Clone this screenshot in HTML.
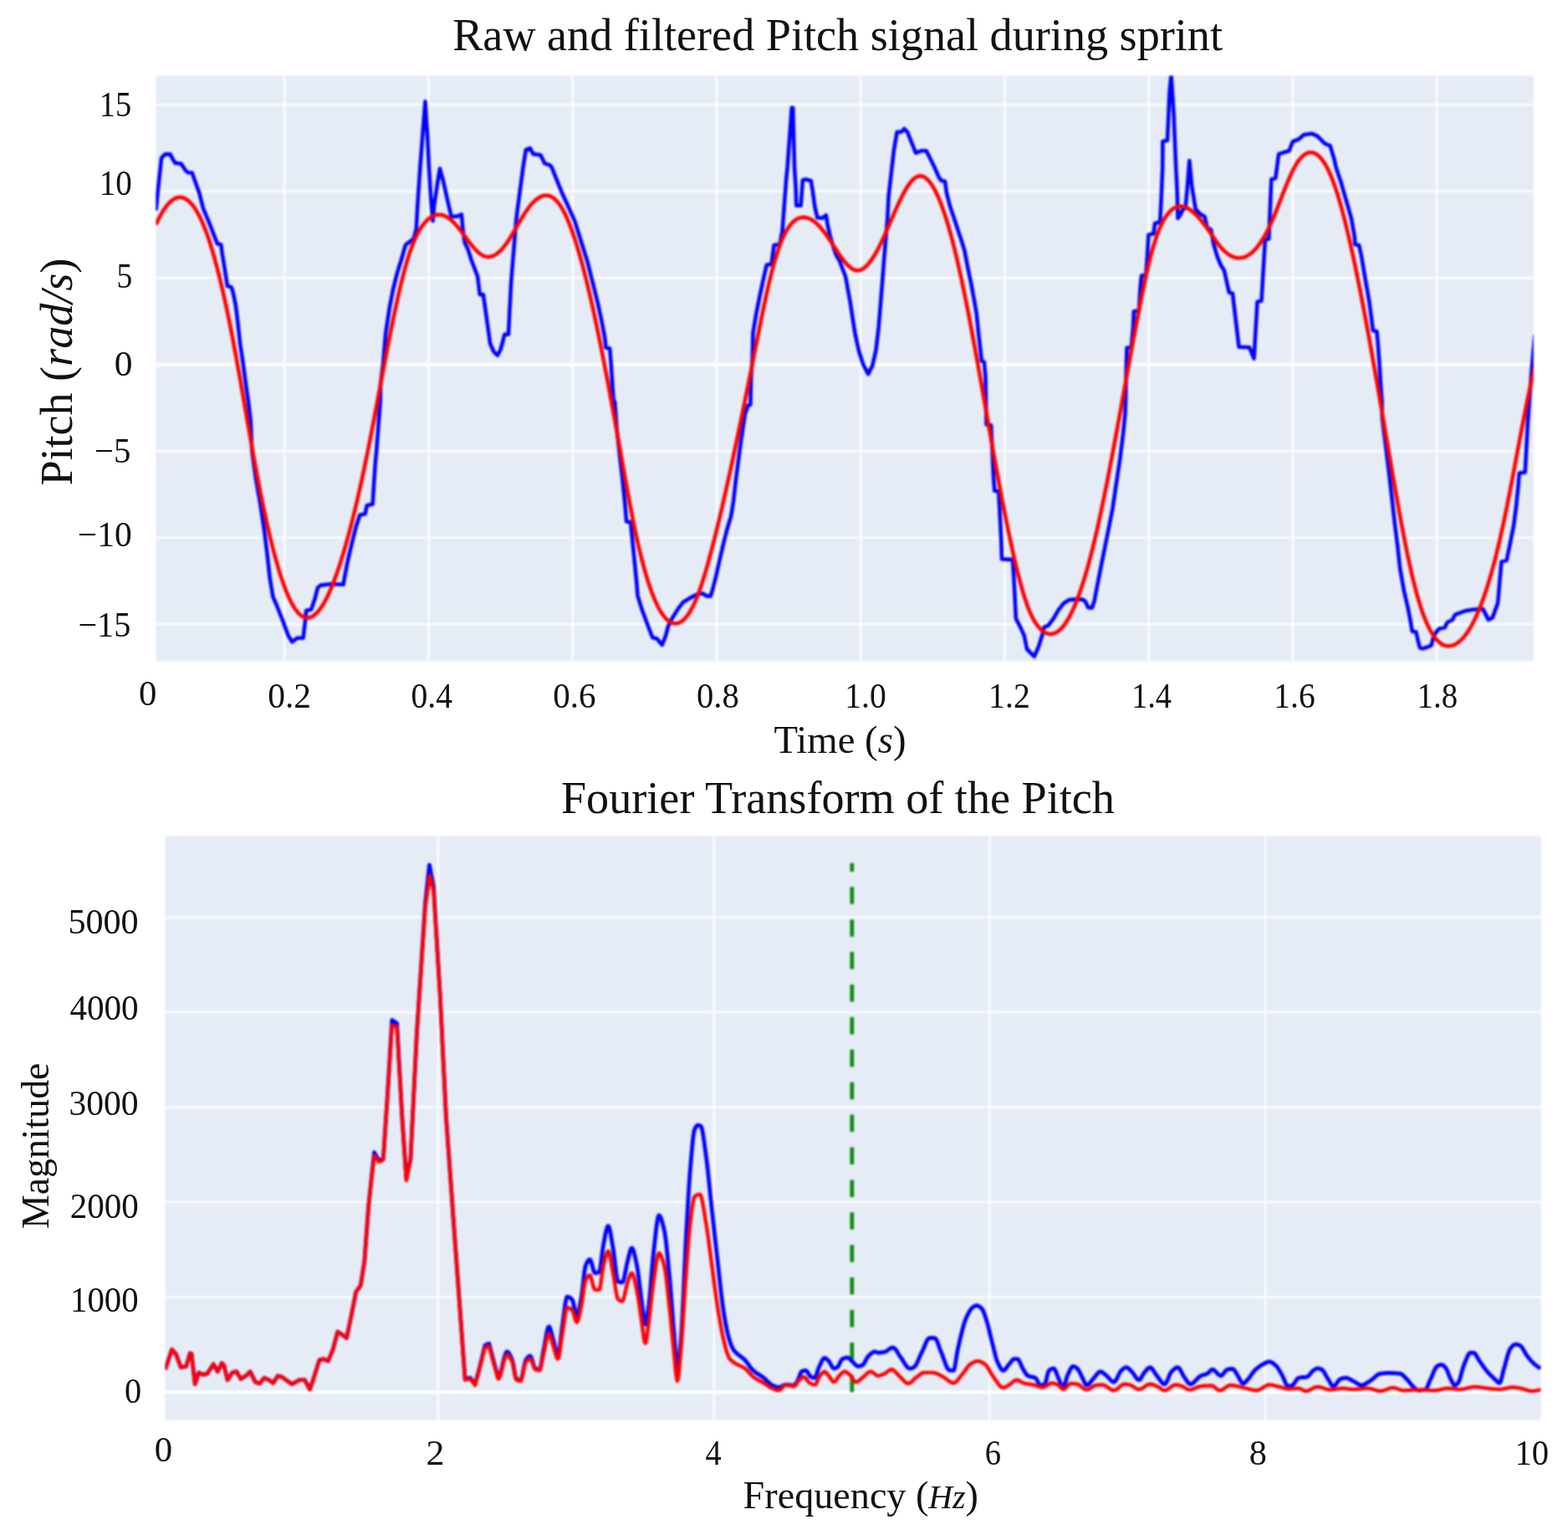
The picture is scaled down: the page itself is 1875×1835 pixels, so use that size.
<!DOCTYPE html>
<html lang="en"><head><meta charset="utf-8"><title>Raw and filtered Pitch signal during sprint</title>
<style>html,body{margin:0;padding:0;background:#fff;}body{width:1875px;height:1835px;overflow:hidden;}svg{display:block;}text{font-family:"Liberation Serif","DejaVu Serif",serif;fill:#111;}</style></head><body>
<svg width="1875" height="1835" viewBox="0 0 1875 1835" role="img" aria-label="Raw and filtered Pitch signal during sprint; Fourier Transform of the Pitch">
<defs><filter id="bl" x="0" y="0" width="1875" height="1835" filterUnits="userSpaceOnUse" color-interpolation-filters="sRGB"><feGaussianBlur stdDeviation="1.00"/></filter></defs>
<g filter="url(#bl)">
<rect x="-20" y="-20" width="1915" height="1875" fill="#fff"/>
<clipPath id="ct"><rect x="186.3" y="90.4" width="1647.5" height="700.0"/></clipPath>
<rect x="186.3" y="90.4" width="1647.5" height="700.0" fill="#e5ecf6"/>
<g stroke="#fff" stroke-width="2.2" clip-path="url(#ct)">
<line x1="340.1" y1="90.4" x2="340.1" y2="790.4"/>
<line x1="512.4" y1="90.4" x2="512.4" y2="790.4"/>
<line x1="684.6" y1="90.4" x2="684.6" y2="790.4"/>
<line x1="856.9" y1="90.4" x2="856.9" y2="790.4"/>
<line x1="1029.1" y1="90.4" x2="1029.1" y2="790.4"/>
<line x1="1201.3" y1="90.4" x2="1201.3" y2="790.4"/>
<line x1="1373.6" y1="90.4" x2="1373.6" y2="790.4"/>
<line x1="1545.8" y1="90.4" x2="1545.8" y2="790.4"/>
<line x1="1718.1" y1="90.4" x2="1718.1" y2="790.4"/>
<line x1="186.3" y1="125.1" x2="1833.8" y2="125.1"/>
<line x1="186.3" y1="228.6" x2="1833.8" y2="228.6"/>
<line x1="186.3" y1="332.1" x2="1833.8" y2="332.1"/>
<line x1="186.3" y1="435.7" x2="1833.8" y2="435.7" stroke-width="4.0"/>
<line x1="186.3" y1="539.2" x2="1833.8" y2="539.2"/>
<line x1="186.3" y1="642.7" x2="1833.8" y2="642.7"/>
<line x1="186.3" y1="746.2" x2="1833.8" y2="746.2"/>
</g>
<g fill="none" stroke-linejoin="round" stroke-linecap="butt" stroke-width="4.6" clip-path="url(#ct)">
<polyline stroke="#0000ff" points="186.5,251.5 189.6,221.0 193.1,188.8 197.4,184.4 203.5,184.4 206.2,189.6 209.6,194.9 216.6,195.7 221.8,203.6 224.5,206.2 229.7,206.6 232.3,214.1 238.3,230.5 242.9,248.8 250.5,267.1 258.1,286.9 260.0,291.5 264.2,292.3 265.8,303.7 268.8,322.0 271.9,341.8 276.7,343.4 278.7,349.5 281.8,364.7 284.1,383.0 287.1,410.5 290.5,433.3 294.0,459.3 297.0,480.0 299.7,502.9 301.3,538.7 305.8,571.5 311.2,602.0 315.8,632.5 319.6,663.0 322.6,690.5 326.4,713.3 331.0,724.0 337.1,739.3 344.7,759.8 349.3,767.3 355.6,762.7 362.6,762.7 365.3,739.3 366.1,730.1 372.2,728.6 376.8,714.9 379.8,702.7 383.6,699.6 395.3,698.3 410.5,698.8 412.0,690.5 415.8,670.6 421.2,647.8 425.8,629.5 430.3,615.7 436.7,614.2 438.7,604.3 445.6,602.8 446.6,586.8 448.6,556.3 450.2,538.7 452.4,510.5 454.7,480.0 455.1,459.3 458.1,434.9 461.2,398.3 465.8,367.8 470.3,344.9 474.9,326.6 481.0,306.8 484.8,293.0 488.6,290.0 494.7,285.4 497.8,273.2 499.3,245.8 502.4,200.0 508.5,121.4 511.0,160.3 513.0,200.0 515.3,238.1 517.6,264.1 519.1,245.8 523.7,215.3 526.0,201.5 529.8,215.3 535.9,242.7 539.7,258.7 546.6,258.7 551.9,256.4 553.4,273.2 555.7,290.0 560.0,299.1 563.6,310.7 571.2,330.7 573.7,352.1 577.9,352.1 586.2,411.0 590.5,420.5 595.0,424.7 598.5,418.0 601.2,408.5 603.3,399.7 608.0,399.7 611.3,335.8 617.5,260.6 625.1,202.9 628.8,179.1 633.8,177.1 637.6,184.1 646.4,185.3 651.4,195.4 657.7,197.4 659.8,200.0 665.9,215.3 672.0,230.5 679.7,247.3 687.3,264.1 694.9,288.5 702.5,312.9 708.6,337.3 714.7,361.7 719.3,383.0 723.1,402.8 724.6,415.8 729.2,416.6 730.7,434.9 732.3,459.3 733.8,479.9 735.1,480.0 737.4,510.5 740.4,538.7 744.2,571.5 747.3,602.0 749.1,623.4 754.1,624.1 756.4,647.8 758.7,670.6 761.0,693.5 762.5,711.8 767.1,727.1 773.2,743.8 779.3,759.8 780.5,762.3 785.5,763.5 791.8,771.0 796.1,759.8 799.1,748.4 803.7,739.3 811.3,727.1 817.4,719.4 825.1,714.9 834.2,710.3 840.5,709.5 845.1,712.6 849.7,712.6 851.9,705.7 855.8,690.5 860.3,670.6 864.9,650.8 869.5,632.5 874.1,617.3 877.1,599.0 880.2,571.5 883.2,548.6 886.3,525.8 890.8,495.3 894.6,484.6 897.4,483.8 898.1,451.6 899.7,428.8 900.4,398.3 904.2,375.4 908.8,352.5 913.4,331.2 916.7,316.7 922.5,315.9 925.6,293.0 932.4,292.3 935.5,276.3 937.8,245.8 940.1,215.3 941.6,200.0 946.8,128.9 948.2,128.9 950.0,200.0 951.5,222.9 952.3,245.8 957.6,245.8 959.9,215.3 963.7,214.5 969.8,216.0 972.1,230.5 974.4,247.3 977.4,260.2 983.5,260.7 987.8,257.2 989.6,268.6 992.7,282.4 997.3,297.6 1000.0,305.2 1003.6,311.0 1011.1,330.7 1016.6,360.8 1022.4,398.4 1027.4,421.0 1032.4,436.0 1038.2,447.3 1043.2,437.3 1047.5,418.5 1050.7,390.9 1054.2,348.3 1057.5,305.7 1061.3,260.6 1062.5,235.5 1068.8,180.3 1072.6,157.8 1077.6,157.8 1081.3,154.0 1085.1,157.8 1095.1,182.8 1101.4,180.3 1107.7,180.3 1112.7,190.3 1117.5,200.0 1122.8,212.2 1125.8,216.0 1130.0,216.8 1131.9,230.5 1135.8,245.8 1141.9,264.1 1148.0,282.4 1153.3,299.1 1157.1,319.0 1160.9,337.3 1164.7,357.1 1167.8,375.4 1170.1,398.3 1172.4,418.1 1173.9,431.8 1176.9,432.6 1178.5,451.6 1179.0,480.0 1179.5,507.5 1185.1,508.2 1186.6,538.7 1188.1,571.5 1189.3,586.8 1194.2,587.5 1195.8,617.3 1197.3,647.8 1198.0,668.4 1211.0,669.1 1212.5,693.5 1214.1,724.0 1214.8,739.3 1220.2,749.9 1224.7,759.8 1228.0,776.0 1236.8,784.8 1241.8,773.5 1246.1,759.8 1248.4,749.9 1253.7,747.6 1259.8,739.3 1266.1,728.6 1272.2,721.0 1278.3,717.1 1287.5,716.4 1295.1,716.7 1298.1,719.4 1301.2,726.3 1305.8,726.8 1308.8,717.9 1311.9,701.1 1316.4,678.3 1321.0,655.4 1325.6,632.5 1330.2,609.6 1334.7,579.1 1339.3,548.6 1343.1,518.1 1345.4,495.3 1346.0,480.0 1346.7,444.0 1347.5,415.8 1352.8,415.0 1355.1,390.6 1355.8,372.3 1361.9,371.6 1363.5,344.9 1365.0,329.6 1370.3,328.9 1371.9,306.8 1373.4,280.8 1379.5,279.3 1381.0,267.1 1387.1,265.6 1388.6,238.1 1390.2,200.0 1390.4,169.1 1396.0,167.8 1398.5,110.1 1400.5,90.1 1403.5,135.2 1406.2,200.0 1407.7,230.5 1408.5,261.0 1411.5,256.4 1414.6,250.3 1417.6,248.8 1419.9,222.9 1422.3,192.0 1425.2,222.9 1429.8,250.3 1435.9,256.4 1440.5,258.7 1443.5,271.7 1448.1,274.7 1451.2,291.5 1455.7,306.8 1460.0,317.4 1463.9,323.2 1469.7,349.5 1473.9,350.8 1481.5,414.7 1494.0,415.2 1499.5,428.5 1503.5,360.8 1508.5,359.6 1512.8,286.9 1517.3,285.6 1520.3,214.2 1525.3,212.9 1529.1,184.1 1541.6,180.3 1545.9,169.1 1552.9,166.5 1559.2,161.0 1569.2,159.8 1575.5,162.8 1584.2,171.6 1590.5,174.1 1595.5,190.4 1597.6,200.0 1603.7,218.3 1609.8,239.7 1615.9,261.0 1619.7,282.4 1620.5,292.3 1625.1,293.0 1628.1,306.8 1632.7,334.2 1637.3,360.1 1640.3,383.0 1641.9,395.2 1646.4,396.0 1648.0,413.5 1649.5,434.9 1651.0,459.3 1652.5,479.9 1652.9,500.0 1656.7,530.5 1660.5,561.0 1664.3,594.6 1668.1,628.1 1671.2,652.5 1674.2,680.0 1678.8,705.9 1683.4,725.7 1686.4,741.0 1688.7,754.7 1693.3,755.5 1695.6,765.4 1697.9,774.5 1701.7,775.3 1706.3,773.8 1711.6,771.5 1713.9,762.3 1716.9,756.2 1720.7,751.7 1727.6,750.1 1730.7,744.0 1736.8,741.0 1739.8,734.9 1745.9,732.6 1752.0,730.3 1761.2,728.8 1770.0,728.0 1773.5,728.4 1779.8,740.9 1784.8,738.4 1791.1,720.9 1794.7,679.9 1795.5,671.5 1801.6,669.9 1805.4,651.6 1810.0,628.8 1813.0,605.9 1815.3,583.0 1816.8,565.5 1823.7,564.7 1825.2,537.3 1826.8,506.8 1829.0,476.3 1831.3,445.8 1833.6,419.8 1835.5,400.0"/>
<polyline stroke="#ff0000" points="186.5,268.5 188.0,265.2 189.5,262.1 191.0,259.2 192.5,256.5 194.0,253.9 195.5,251.4 197.0,249.2 198.5,247.1 200.0,245.2 201.5,243.5 203.0,241.9 204.5,240.6 206.0,239.4 207.5,238.3 209.0,237.5 210.5,236.8 212.0,236.3 213.5,236.0 215.0,235.9 216.5,236.0 218.0,236.2 219.5,236.6 221.0,237.3 222.5,238.1 224.0,239.1 225.5,240.2 227.0,241.6 228.5,243.2 230.0,244.9 231.5,246.9 233.0,249.0 234.5,251.3 236.0,253.9 237.5,256.6 239.0,259.5 240.5,262.6 242.0,266.0 243.5,269.5 245.0,273.2 246.5,277.1 248.0,281.3 249.5,285.6 251.0,290.1 252.5,294.9 254.0,299.8 255.5,304.9 257.0,310.3 258.5,315.8 260.0,321.5 261.5,327.4 263.0,333.5 264.5,339.7 266.0,346.1 267.5,352.7 269.0,359.5 270.5,366.4 272.0,373.5 273.5,380.8 275.0,388.2 276.5,395.7 278.0,403.4 279.5,411.3 281.0,419.3 282.5,427.4 284.0,435.7 285.5,444.0 287.0,452.5 288.5,461.0 290.0,469.6 291.5,478.2 293.0,486.8 294.5,495.5 296.0,504.1 297.5,512.7 299.0,521.3 300.5,529.8 302.0,538.3 303.5,546.6 305.0,554.9 306.5,563.0 308.0,571.0 309.5,578.8 311.0,586.5 312.5,594.1 314.0,601.4 315.5,608.6 317.0,615.6 318.5,622.5 320.0,629.2 321.5,635.7 323.0,642.0 324.5,648.2 326.0,654.2 327.5,660.0 329.0,665.6 330.5,671.0 332.0,676.2 333.5,681.3 335.0,686.1 336.5,690.8 338.0,695.2 339.5,699.4 341.0,703.5 342.5,707.3 344.0,710.9 345.5,714.3 347.0,717.5 348.5,720.5 350.0,723.2 351.5,725.7 353.0,728.0 354.5,730.1 356.0,732.0 357.5,733.6 359.0,735.0 360.5,736.1 362.0,737.0 363.5,737.7 365.0,738.2 366.5,738.5 368.0,738.5 369.5,738.4 371.0,738.0 372.5,737.4 374.0,736.6 375.5,735.6 377.0,734.4 378.5,733.0 380.0,731.4 381.5,729.7 383.0,727.7 384.5,725.6 386.0,723.2 387.5,720.7 389.0,718.0 390.5,715.1 392.0,712.1 393.5,708.9 395.0,705.5 396.5,702.0 398.0,698.3 399.5,694.4 401.0,690.4 402.5,686.3 404.0,681.9 405.5,677.5 407.0,672.9 408.5,668.1 410.0,663.2 411.5,658.2 413.0,653.0 414.5,647.7 416.0,642.3 417.5,636.8 419.0,631.1 420.5,625.2 422.0,619.3 423.5,613.2 425.0,607.0 426.5,600.7 428.0,594.3 429.5,587.7 431.0,581.0 432.5,574.2 434.0,567.3 435.5,560.2 437.0,553.1 438.5,545.8 440.0,538.4 441.5,530.9 443.0,523.3 444.5,515.6 446.0,507.8 447.5,499.9 449.0,492.0 450.5,484.1 452.0,476.1 453.5,468.1 455.0,460.1 456.5,452.1 458.0,444.1 459.5,436.2 461.0,428.3 462.5,420.4 464.0,412.7 465.5,405.0 467.0,397.4 468.5,389.9 470.0,382.6 471.5,375.4 473.0,368.3 474.5,361.4 476.0,354.7 477.5,348.1 479.0,341.7 480.5,335.6 482.0,329.6 483.5,323.9 485.0,318.4 486.5,313.2 488.0,308.2 489.5,303.6 491.0,299.1 492.5,295.0 494.0,291.1 495.5,287.5 497.0,284.1 498.5,281.0 500.0,278.1 501.5,275.4 503.0,272.9 504.5,270.6 506.0,268.6 507.5,266.7 509.0,265.0 510.5,263.4 512.0,262.1 513.5,260.9 515.0,259.8 516.5,258.9 518.0,258.2 519.5,257.6 521.0,257.1 522.5,256.9 524.0,256.7 525.5,256.7 527.0,256.8 528.5,257.1 530.0,257.5 531.5,258.0 533.0,258.7 534.5,259.5 536.0,260.5 537.5,261.5 539.0,262.7 540.5,264.0 542.0,265.4 543.5,266.9 545.0,268.6 546.5,270.3 548.0,272.1 549.5,274.0 551.0,275.9 552.5,277.9 554.0,279.9 555.5,281.9 557.0,283.9 558.5,286.0 560.0,288.0 561.5,289.9 563.0,291.8 564.5,293.7 566.0,295.5 567.5,297.2 569.0,298.8 570.5,300.3 572.0,301.7 573.5,303.0 575.0,304.1 576.5,305.0 578.0,305.8 579.5,306.4 581.0,306.8 582.5,307.1 584.0,307.1 585.5,307.0 587.0,306.8 588.5,306.3 590.0,305.8 591.5,305.0 593.0,304.1 594.5,303.1 596.0,301.9 597.5,300.6 599.0,299.1 600.5,297.5 602.0,295.7 603.5,293.9 605.0,291.9 606.5,289.8 608.0,287.5 609.5,285.2 611.0,282.8 612.5,280.3 614.0,277.8 615.5,275.2 617.0,272.6 618.5,270.0 620.0,267.4 621.5,264.9 623.0,262.3 624.5,259.8 626.0,257.4 627.5,255.1 629.0,252.8 630.5,250.6 632.0,248.6 633.5,246.6 635.0,244.8 636.5,243.1 638.0,241.5 639.5,240.1 641.0,238.8 642.5,237.6 644.0,236.6 645.5,235.7 647.0,235.0 648.5,234.4 650.0,234.0 651.5,233.7 653.0,233.6 654.5,233.7 656.0,234.0 657.5,234.4 659.0,235.0 660.5,235.9 662.0,236.9 663.5,238.1 665.0,239.5 666.5,241.2 668.0,243.0 669.5,245.1 671.0,247.3 672.5,249.8 674.0,252.5 675.5,255.5 677.0,258.6 678.5,262.0 680.0,265.5 681.5,269.3 683.0,273.2 684.5,277.4 686.0,281.7 687.5,286.2 689.0,290.9 690.5,295.8 692.0,300.8 693.5,306.0 695.0,311.4 696.5,316.9 698.0,322.6 699.5,328.5 701.0,334.5 702.5,340.6 704.0,346.9 705.5,353.3 707.0,359.8 708.5,366.5 710.0,373.3 711.5,380.2 713.0,387.3 714.5,394.5 716.0,401.7 717.5,409.1 719.0,416.6 720.5,424.1 722.0,431.8 723.5,439.6 725.0,447.4 726.5,455.3 728.0,463.3 729.5,471.4 731.0,479.5 732.5,487.7 734.0,495.9 735.5,504.2 737.0,512.5 738.5,520.9 740.0,529.3 741.5,537.7 743.0,546.1 744.5,554.6 746.0,563.0 747.5,571.4 749.0,579.7 750.5,587.9 752.0,596.0 753.5,604.0 755.0,611.8 756.5,619.5 758.0,627.0 759.5,634.2 761.0,641.2 762.5,648.0 764.0,654.5 765.5,660.8 767.0,666.9 768.5,672.7 770.0,678.3 771.5,683.6 773.0,688.8 774.5,693.7 776.0,698.3 777.5,702.8 779.0,707.0 780.5,710.9 782.0,714.7 783.5,718.2 785.0,721.5 786.5,724.6 788.0,727.5 789.5,730.2 791.0,732.6 792.5,734.8 794.0,736.8 795.5,738.6 797.0,740.2 798.5,741.5 800.0,742.7 801.5,743.6 803.0,744.4 804.5,744.9 806.0,745.2 807.5,745.3 809.0,745.3 810.5,745.0 812.0,744.5 813.5,743.8 815.0,742.9 816.5,741.8 818.0,740.4 819.5,738.9 821.0,737.1 822.5,735.2 824.0,733.0 825.5,730.5 827.0,727.9 828.5,725.0 830.0,722.0 831.5,718.6 833.0,715.1 834.5,711.3 836.0,707.3 837.5,703.1 839.0,698.7 840.5,694.0 842.0,689.2 843.5,684.2 845.0,679.1 846.5,673.8 848.0,668.3 849.5,662.7 851.0,657.1 852.5,651.3 854.0,645.4 855.5,639.4 857.0,633.4 858.5,627.2 860.0,621.0 861.5,614.7 863.0,608.3 864.5,601.9 866.0,595.3 867.5,588.7 869.0,582.1 870.5,575.3 872.0,568.6 873.5,561.7 875.0,554.8 876.5,547.8 878.0,540.8 879.5,533.7 881.0,526.6 882.5,519.4 884.0,512.2 885.5,505.0 887.0,497.7 888.5,490.4 890.0,483.0 891.5,475.6 893.0,468.2 894.5,460.7 896.0,453.3 897.5,445.8 899.0,438.2 900.5,430.7 902.0,423.1 903.5,415.6 905.0,408.0 906.5,400.5 908.0,392.9 909.5,385.5 911.0,378.1 912.5,370.9 914.0,363.7 915.5,356.7 917.0,349.9 918.5,343.2 920.0,336.8 921.5,330.6 923.0,324.6 924.5,318.9 926.0,313.5 927.5,308.3 929.0,303.5 930.5,299.0 932.0,294.7 933.5,290.7 935.0,287.0 936.5,283.6 938.0,280.4 939.5,277.5 941.0,274.9 942.5,272.5 944.0,270.3 945.5,268.4 947.0,266.7 948.5,265.2 950.0,263.9 951.5,262.8 953.0,261.9 954.5,261.2 956.0,260.6 957.5,260.2 959.0,260.0 960.5,259.9 962.0,259.9 963.5,260.1 965.0,260.4 966.5,260.8 968.0,261.4 969.5,262.1 971.0,263.0 972.5,264.0 974.0,265.1 975.5,266.3 977.0,267.7 978.5,269.2 980.0,270.8 981.5,272.4 983.0,274.2 984.5,276.1 986.0,278.0 987.5,280.1 989.0,282.2 990.5,284.3 992.0,286.5 993.5,288.8 995.0,291.1 996.5,293.4 998.0,295.7 999.5,298.0 1001.0,300.3 1002.5,302.6 1004.0,304.8 1005.5,306.9 1007.0,309.0 1008.5,310.9 1010.0,312.8 1011.5,314.6 1013.0,316.2 1014.5,317.7 1016.0,319.1 1017.5,320.3 1019.0,321.3 1020.5,322.1 1022.0,322.8 1023.5,323.2 1025.0,323.4 1026.5,323.3 1028.0,323.1 1029.5,322.6 1031.0,321.9 1032.5,320.9 1034.0,319.8 1035.5,318.5 1037.0,317.0 1038.5,315.4 1040.0,313.5 1041.5,311.5 1043.0,309.4 1044.5,307.0 1046.0,304.6 1047.5,302.0 1049.0,299.3 1050.5,296.5 1052.0,293.5 1053.5,290.5 1055.0,287.3 1056.5,284.1 1058.0,280.8 1059.5,277.4 1061.0,274.0 1062.5,270.6 1064.0,267.1 1065.5,263.6 1067.0,260.1 1068.5,256.7 1070.0,253.2 1071.5,249.9 1073.0,246.5 1074.5,243.3 1076.0,240.1 1077.5,237.0 1079.0,234.0 1080.5,231.1 1082.0,228.4 1083.5,225.8 1085.0,223.4 1086.5,221.1 1088.0,219.0 1089.5,217.1 1091.0,215.5 1092.5,214.0 1094.0,212.8 1095.5,211.8 1097.0,211.1 1098.5,210.6 1100.0,210.4 1101.5,210.5 1103.0,210.8 1104.5,211.3 1106.0,212.2 1107.5,213.2 1109.0,214.5 1110.5,216.1 1112.0,217.9 1113.5,219.9 1115.0,222.2 1116.5,224.7 1118.0,227.4 1119.5,230.4 1121.0,233.5 1122.5,236.9 1124.0,240.5 1125.5,244.4 1127.0,248.4 1128.5,252.7 1130.0,257.1 1131.5,261.8 1133.0,266.7 1134.5,271.7 1136.0,277.0 1137.5,282.5 1139.0,288.1 1140.5,294.0 1142.0,300.0 1143.5,306.2 1145.0,312.6 1146.5,319.2 1148.0,325.9 1149.5,332.8 1151.0,339.9 1152.5,347.1 1154.0,354.5 1155.5,361.9 1157.0,369.5 1158.5,377.3 1160.0,385.1 1161.5,393.0 1163.0,401.0 1164.5,409.1 1166.0,417.3 1167.5,425.5 1169.0,433.9 1170.5,442.2 1172.0,450.6 1173.5,459.1 1175.0,467.5 1176.5,476.0 1178.0,484.5 1179.5,493.0 1181.0,501.5 1182.5,510.0 1184.0,518.5 1185.5,527.0 1187.0,535.4 1188.5,543.8 1190.0,552.1 1191.5,560.4 1193.0,568.6 1194.5,576.7 1196.0,584.8 1197.5,592.7 1199.0,600.6 1200.5,608.3 1202.0,616.0 1203.5,623.5 1205.0,630.9 1206.5,638.2 1208.0,645.3 1209.5,652.3 1211.0,659.1 1212.5,665.7 1214.0,672.2 1215.5,678.5 1217.0,684.6 1218.5,690.4 1220.0,696.1 1221.5,701.6 1223.0,706.8 1224.5,711.8 1226.0,716.6 1227.5,721.0 1229.0,725.2 1230.5,729.1 1232.0,732.7 1233.5,736.0 1235.0,739.0 1236.5,741.7 1238.0,744.2 1239.5,746.4 1241.0,748.4 1242.5,750.2 1244.0,751.8 1245.5,753.2 1247.0,754.4 1248.5,755.4 1250.0,756.3 1251.5,757.0 1253.0,757.5 1254.5,757.8 1256.0,757.9 1257.5,757.9 1259.0,757.7 1260.5,757.3 1262.0,756.7 1263.5,755.9 1265.0,754.9 1266.5,753.8 1268.0,752.4 1269.5,750.9 1271.0,749.2 1272.5,747.3 1274.0,745.2 1275.5,743.0 1277.0,740.5 1278.5,737.9 1280.0,735.1 1281.5,732.0 1283.0,728.9 1284.5,725.5 1286.0,722.0 1287.5,718.2 1289.0,714.3 1290.5,710.3 1292.0,706.0 1293.5,701.6 1295.0,697.0 1296.5,692.2 1298.0,687.2 1299.5,682.1 1301.0,676.8 1302.5,671.3 1304.0,665.7 1305.5,659.9 1307.0,653.9 1308.5,647.7 1310.0,641.4 1311.5,634.9 1313.0,628.3 1314.5,621.5 1316.0,614.5 1317.5,607.5 1319.0,600.3 1320.5,593.0 1322.0,585.5 1323.5,578.0 1325.0,570.4 1326.5,562.6 1328.0,554.8 1329.5,547.0 1331.0,539.0 1332.5,531.0 1334.0,522.9 1335.5,514.8 1337.0,506.6 1338.5,498.4 1340.0,490.2 1341.5,481.9 1343.0,473.6 1344.5,465.4 1346.0,457.1 1347.5,448.8 1349.0,440.6 1350.5,432.4 1352.0,424.2 1353.5,416.0 1355.0,407.9 1356.5,399.8 1358.0,391.8 1359.5,383.8 1361.0,376.0 1362.5,368.2 1364.0,360.5 1365.5,353.0 1367.0,345.7 1368.5,338.5 1370.0,331.6 1371.5,324.8 1373.0,318.3 1374.5,312.1 1376.0,306.2 1377.5,300.6 1379.0,295.3 1380.5,290.3 1382.0,285.7 1383.5,281.4 1385.0,277.4 1386.5,273.7 1388.0,270.2 1389.5,267.1 1391.0,264.2 1392.5,261.5 1394.0,259.1 1395.5,257.0 1397.0,255.1 1398.5,253.3 1400.0,251.8 1401.5,250.5 1403.0,249.4 1404.5,248.5 1406.0,247.8 1407.5,247.2 1409.0,246.9 1410.5,246.7 1412.0,246.6 1413.5,246.7 1415.0,247.0 1416.5,247.4 1418.0,248.0 1419.5,248.6 1421.0,249.4 1422.5,250.4 1424.0,251.4 1425.5,252.6 1427.0,253.8 1428.5,255.2 1430.0,256.6 1431.5,258.1 1433.0,259.7 1434.5,261.4 1436.0,263.2 1437.5,265.1 1439.0,267.0 1440.5,268.9 1442.0,270.9 1443.5,273.0 1445.0,275.1 1446.5,277.3 1448.0,279.4 1449.5,281.6 1451.0,283.8 1452.5,285.9 1454.0,288.0 1455.5,290.1 1457.0,292.1 1458.5,294.0 1460.0,295.8 1461.5,297.5 1463.0,299.0 1464.5,300.5 1466.0,301.8 1467.5,303.0 1469.0,304.1 1470.5,305.1 1472.0,305.9 1473.5,306.7 1475.0,307.3 1476.5,307.8 1478.0,308.1 1479.5,308.4 1481.0,308.5 1482.5,308.5 1484.0,308.3 1485.5,308.1 1487.0,307.7 1488.5,307.2 1490.0,306.6 1491.5,305.8 1493.0,304.9 1494.5,303.9 1496.0,302.8 1497.5,301.5 1499.0,300.1 1500.5,298.6 1502.0,296.9 1503.5,295.1 1505.0,293.2 1506.5,291.1 1508.0,288.9 1509.5,286.6 1511.0,284.2 1512.5,281.6 1514.0,278.8 1515.5,276.0 1517.0,273.0 1518.5,269.9 1520.0,266.6 1521.5,263.2 1523.0,259.7 1524.5,256.1 1526.0,252.4 1527.5,248.6 1529.0,244.8 1530.5,240.9 1532.0,237.1 1533.5,233.2 1535.0,229.4 1536.5,225.6 1538.0,221.8 1539.5,218.2 1541.0,214.6 1542.5,211.2 1544.0,207.9 1545.5,204.7 1547.0,201.8 1548.5,199.0 1550.0,196.4 1551.5,194.0 1553.0,191.9 1554.5,190.0 1556.0,188.3 1557.5,186.8 1559.0,185.6 1560.5,184.5 1562.0,183.6 1563.5,183.0 1565.0,182.5 1566.5,182.3 1568.0,182.3 1569.5,182.4 1571.0,182.8 1572.5,183.4 1574.0,184.3 1575.5,185.3 1577.0,186.6 1578.5,188.0 1580.0,189.7 1581.5,191.6 1583.0,193.8 1584.5,196.1 1586.0,198.7 1587.5,201.6 1589.0,204.6 1590.5,207.9 1592.0,211.4 1593.5,215.2 1595.0,219.2 1596.5,223.4 1598.0,227.9 1599.5,232.6 1601.0,237.5 1602.5,242.6 1604.0,248.0 1605.5,253.5 1607.0,259.2 1608.5,265.2 1610.0,271.2 1611.5,277.5 1613.0,283.9 1614.5,290.4 1616.0,297.1 1617.5,304.0 1619.0,310.9 1620.5,318.0 1622.0,325.3 1623.5,332.6 1625.0,340.1 1626.5,347.6 1628.0,355.3 1629.5,363.1 1631.0,371.0 1632.5,378.9 1634.0,387.0 1635.5,395.1 1637.0,403.3 1638.5,411.6 1640.0,420.0 1641.5,428.4 1643.0,436.9 1644.5,445.5 1646.0,454.1 1647.5,462.7 1649.0,471.4 1650.5,480.1 1652.0,488.9 1653.5,497.7 1655.0,506.5 1656.5,515.4 1658.0,524.2 1659.5,533.1 1661.0,541.9 1662.5,550.7 1664.0,559.5 1665.5,568.2 1667.0,576.8 1668.5,585.4 1670.0,593.9 1671.5,602.3 1673.0,610.6 1674.5,618.8 1676.0,626.9 1677.5,634.8 1679.0,642.5 1680.5,650.1 1682.0,657.6 1683.5,664.8 1685.0,671.8 1686.5,678.7 1688.0,685.3 1689.5,691.7 1691.0,697.8 1692.5,703.7 1694.0,709.3 1695.5,714.7 1697.0,719.7 1698.5,724.5 1700.0,729.1 1701.5,733.4 1703.0,737.4 1704.5,741.2 1706.0,744.7 1707.5,748.0 1709.0,751.1 1710.5,753.9 1712.0,756.5 1713.5,758.9 1715.0,761.1 1716.5,763.1 1718.0,764.9 1719.5,766.4 1721.0,767.8 1722.5,769.0 1724.0,770.0 1725.5,770.8 1727.0,771.4 1728.5,771.9 1730.0,772.2 1731.5,772.3 1733.0,772.3 1734.5,772.2 1736.0,771.8 1737.5,771.4 1739.0,770.8 1740.5,770.1 1742.0,769.2 1743.5,768.2 1745.0,767.0 1746.5,765.7 1748.0,764.3 1749.5,762.7 1751.0,760.9 1752.5,759.0 1754.0,757.0 1755.5,754.8 1757.0,752.4 1758.5,749.9 1760.0,747.3 1761.5,744.4 1763.0,741.5 1764.5,738.3 1766.0,735.0 1767.5,731.6 1769.0,728.0 1770.5,724.2 1772.0,720.3 1773.5,716.2 1775.0,711.9 1776.5,707.5 1778.0,702.8 1779.5,698.1 1781.0,693.1 1782.5,688.0 1784.0,682.7 1785.5,677.3 1787.0,671.6 1788.5,665.8 1790.0,659.8 1791.5,653.6 1793.0,647.3 1794.5,640.8 1796.0,634.0 1797.5,627.2 1799.0,620.1 1800.5,612.8 1802.0,605.4 1803.5,597.9 1805.0,590.2 1806.5,582.5 1808.0,574.7 1809.5,566.8 1811.0,558.8 1812.5,550.8 1814.0,542.9 1815.5,534.9 1817.0,526.9 1818.5,519.0 1820.0,511.1 1821.5,503.4 1823.0,495.7 1824.5,488.1 1826.0,480.6 1827.5,473.3 1829.0,466.2 1830.5,459.2 1832.0,452.5 1833.5,445.9 1835.0,439.6 1836.5,433.5"/>
</g>
<clipPath id="cb"><rect x="197.6" y="999.5" width="1645.0" height="698.5"/></clipPath>
<rect x="197.6" y="999.5" width="1645.0" height="698.5" fill="#e5ecf6"/>
<g stroke="#fff" stroke-width="2.2" clip-path="url(#cb)">
<line x1="524.1" y1="999.5" x2="524.1" y2="1698.0"/>
<line x1="853.7" y1="999.5" x2="853.7" y2="1698.0"/>
<line x1="1183.4" y1="999.5" x2="1183.4" y2="1698.0"/>
<line x1="1513.0" y1="999.5" x2="1513.0" y2="1698.0"/>
<line x1="197.6" y1="1096.6" x2="1842.6" y2="1096.6"/>
<line x1="197.6" y1="1210.1" x2="1842.6" y2="1210.1"/>
<line x1="197.6" y1="1323.6" x2="1842.6" y2="1323.6"/>
<line x1="197.6" y1="1437.2" x2="1842.6" y2="1437.2"/>
<line x1="197.6" y1="1550.7" x2="1842.6" y2="1550.7"/>
<line x1="197.6" y1="1664.2" x2="1842.6" y2="1664.2" stroke-width="4.0"/>
</g>
<g fill="none" stroke-linejoin="round" stroke-linecap="butt" stroke-width="4.6" clip-path="url(#cb)">
<line x1="1018.8" y1="1664.3" x2="1018.8" y2="1031.8" stroke="#078a07" stroke-width="4.6" stroke-dasharray="20.5 18.4"/>
<polyline stroke="#0000ff" stroke-width="4.8" points="197.6,1637.1 205.6,1613.3 210.2,1618.3 216.4,1634.6 222.7,1633.4 227.2,1617.8 229.0,1618.3 233.2,1654.7 237.7,1640.9 242.7,1643.4 247.8,1642.2 255.3,1630.9 260.3,1639.7 265.3,1629.6 267.8,1632.1 272.1,1649.7 277.8,1640.9 282.9,1639.7 287.9,1648.4 294.1,1644.7 299.1,1639.7 305.4,1652.2 310.4,1653.9 315.9,1647.2 321.7,1649.7 326.7,1653.4 332.2,1644.7 336.7,1645.9 349.3,1654.7 358.1,1649.7 364.3,1649.7 370.6,1661.0 375.6,1645.9 381.9,1625.9 386.9,1624.6 392.4,1627.1 398.2,1613.3 403.7,1592.0 409.4,1595.8 414.5,1599.5 419.5,1575.7 425.7,1544.4 431.2,1536.9 435.8,1508.1 440.8,1440.4 447.5,1377.7 453.3,1387.7 458.3,1385.2 463.3,1310.9 468.8,1219.4 474.6,1223.2 480.9,1336.0 485.9,1408.7 490.9,1386.1 498.4,1235.7 508.5,1080.3 513.5,1033.9 518.5,1060.3 526.0,1185.6 533.5,1336.0 543.5,1475.5 556.1,1648.4 562.3,1647.2 568.1,1654.7 573.6,1634.6 579.9,1608.3 584.9,1606.3 589.9,1625.9 595.7,1647.2 595.9,1647.1 596.9,1646.0 597.9,1643.6 598.9,1640.2 599.9,1636.2 600.9,1631.8 601.9,1627.4 602.9,1623.3 603.9,1619.8 604.9,1617.3 605.9,1615.9 606.9,1616.0 607.9,1616.8 608.9,1618.1 609.9,1619.9 610.9,1622.0 611.9,1624.4 612.9,1627.0 613.9,1631.6 614.9,1637.5 615.9,1643.3 616.9,1647.4 617.9,1648.6 618.9,1649.0 619.9,1649.3 620.9,1649.5 621.9,1649.7 622.9,1649.5 623.9,1647.2 624.9,1643.0 625.9,1637.8 626.9,1632.6 627.9,1628.3 628.9,1625.7 629.9,1624.2 630.9,1622.9 631.9,1621.8 632.9,1621.1 633.9,1620.9 634.9,1621.9 635.9,1624.5 636.9,1627.8 637.9,1631.2 638.9,1634.1 639.9,1635.8 640.9,1636.2 641.9,1636.6 642.9,1636.9 643.9,1637.1 644.9,1637.1 645.9,1636.0 646.9,1632.1 647.9,1626.4 648.9,1620.1 649.9,1614.4 650.9,1609.5 651.9,1603.8 652.9,1598.0 653.9,1592.6 654.9,1588.5 655.9,1586.1 656.9,1586.0 657.9,1588.0 658.9,1591.3 659.9,1595.2 660.9,1599.1 661.9,1602.5 662.9,1606.8 663.9,1611.4 664.9,1615.7 665.9,1619.1 666.9,1620.8 667.9,1619.6 668.9,1614.5 669.9,1606.7 670.9,1597.7 671.9,1589.0 672.9,1581.9 673.9,1574.4 674.9,1566.5 675.9,1559.1 676.9,1553.3 677.9,1550.4 678.9,1550.2 679.9,1550.5 680.9,1550.9 681.9,1551.5 682.9,1552.3 683.9,1553.1 684.9,1555.2 685.9,1559.2 686.9,1564.1 687.9,1568.8 688.9,1572.2 689.9,1573.2 690.9,1571.7 691.9,1568.3 692.9,1563.6 693.9,1558.1 694.9,1552.5 695.9,1546.5 696.9,1538.1 697.9,1528.7 698.9,1520.2 699.9,1514.3 700.9,1511.5 701.9,1509.3 702.9,1507.5 703.9,1506.2 704.9,1505.6 705.9,1506.0 706.9,1508.3 707.9,1511.7 708.9,1515.6 709.9,1519.1 710.9,1521.4 711.9,1521.8 712.9,1521.7 713.9,1521.6 714.9,1521.3 715.9,1520.9 716.9,1520.1 717.9,1515.7 718.9,1508.4 719.9,1499.9 720.9,1492.0 721.9,1486.3 722.9,1481.1 723.9,1475.8 724.9,1471.2 725.9,1467.6 726.9,1465.7 727.9,1465.9 728.9,1468.7 729.9,1473.3 730.9,1479.0 731.9,1485.1 732.9,1490.8 733.9,1497.5 734.9,1505.7 735.9,1514.3 736.9,1522.3 737.9,1528.5 738.9,1531.7 739.9,1532.2 740.9,1532.6 741.9,1532.9 742.9,1533.0 743.9,1533.1 744.9,1532.4 745.9,1529.5 746.9,1525.2 747.9,1520.0 748.9,1514.7 749.9,1510.0 750.9,1506.1 751.9,1501.9 752.9,1497.7 753.9,1494.2 754.9,1492.1 755.9,1492.0 756.9,1493.5 757.9,1496.4 758.9,1500.2 759.9,1504.6 760.9,1509.4 761.9,1514.2 762.9,1520.5 763.9,1528.2 764.9,1536.5 765.9,1544.8 766.9,1552.2 767.9,1560.3 768.9,1568.9 769.9,1576.6 770.9,1581.8 771.9,1583.2 772.9,1580.2 773.9,1574.4 774.9,1567.2 775.9,1559.8 776.9,1550.3 777.9,1538.9 778.9,1526.7 779.9,1514.5 780.9,1503.3 781.9,1494.1 782.9,1485.1 783.9,1476.0 784.9,1467.4 785.9,1460.1 786.9,1455.0 787.9,1452.9 788.9,1453.4 789.9,1455.1 790.9,1457.7 791.9,1461.0 792.9,1464.8 793.9,1468.9 794.9,1473.6 795.9,1480.3 796.9,1488.6 797.9,1498.2 798.9,1508.4 799.9,1519.0 800.9,1529.6 801.9,1541.5 802.9,1554.5 803.9,1567.8 804.9,1580.6 805.9,1592.6 806.9,1606.2 807.9,1619.9 808.9,1630.7 809.9,1635.8 810.9,1633.8 811.9,1627.0 812.9,1617.0 813.9,1605.6 814.9,1593.1 815.9,1576.0 816.9,1555.3 817.9,1532.7 818.9,1509.8 819.9,1488.4 820.9,1469.8 821.9,1452.0 822.9,1434.6 823.9,1418.4 824.9,1403.9 825.9,1391.7 826.9,1380.0 827.9,1368.9 828.9,1359.5 829.9,1352.8 830.9,1349.5 831.9,1347.5 832.9,1346.0 833.9,1345.2 834.9,1345.2 835.9,1345.4 836.9,1345.7 837.9,1346.2 838.9,1347.7 839.9,1351.4 840.9,1357.1 841.9,1364.0 842.9,1371.5 843.9,1379.1 844.9,1386.5 845.9,1394.8 846.9,1404.0 847.9,1413.6 848.9,1423.5 849.9,1433.3 850.9,1442.6 851.9,1451.7 852.9,1460.8 853.9,1469.9 854.9,1479.0 855.9,1488.0 856.9,1496.9 857.9,1505.6 858.9,1514.4 859.9,1523.4 860.9,1532.5 861.9,1541.5 862.9,1550.1 863.9,1558.2 864.9,1565.5 865.9,1571.9 866.9,1577.7 867.9,1583.2 868.9,1588.3 869.9,1592.9 870.9,1597.0 871.9,1600.6 872.9,1603.7 873.9,1606.7 874.9,1609.3 875.9,1611.5 876.9,1613.2 877.9,1614.6 878.9,1615.8 879.9,1616.9 880.9,1617.8 881.9,1618.7 882.9,1619.5 883.9,1620.3 884.9,1621.0 885.9,1621.7 886.9,1622.5 887.9,1623.2 888.9,1624.1 889.9,1625.0 890.9,1626.0 891.9,1627.2 892.9,1628.4 893.9,1629.7 894.9,1631.1 895.9,1632.5 896.9,1633.9 897.9,1635.2 898.9,1636.4 899.9,1637.5 900.9,1638.5 901.9,1639.4 902.9,1640.2 903.9,1640.9 904.9,1641.6 905.9,1642.2 906.9,1642.9 907.9,1643.5 908.9,1644.1 909.9,1644.8 910.9,1645.4 911.9,1646.1 912.9,1646.8 913.9,1647.6 914.9,1648.5 915.9,1649.5 916.9,1650.5 917.9,1651.5 918.9,1652.5 919.9,1653.4 920.9,1654.3 921.9,1655.1 922.9,1655.7 923.9,1656.2 924.9,1656.7 925.9,1657.1 926.9,1657.6 927.9,1657.9 928.9,1658.2 929.9,1658.4 930.9,1658.5 931.9,1658.3 932.9,1658.0 933.9,1657.6 934.9,1657.1 935.9,1656.6 936.9,1656.1 937.9,1655.8 938.9,1655.5 939.9,1655.4 940.9,1655.5 941.9,1655.5 942.9,1655.6 943.9,1655.6 944.9,1655.7 945.9,1655.8 946.9,1655.9 947.9,1655.9 948.9,1655.9 949.9,1655.9 950.9,1655.2 951.9,1653.8 952.9,1652.0 953.9,1650.0 954.9,1648.0 955.9,1645.4 956.9,1642.4 957.9,1640.2 958.9,1639.4 959.9,1639.1 960.9,1638.7 961.9,1638.5 962.9,1638.4 963.9,1638.5 964.9,1639.3 965.9,1640.7 966.9,1642.3 967.9,1644.0 968.9,1645.3 969.9,1646.0 970.9,1646.4 971.9,1646.8 972.9,1647.1 973.9,1647.2 974.9,1646.5 975.9,1644.4 976.9,1641.6 977.9,1638.4 978.9,1635.4 979.9,1633.1 980.9,1631.0 981.9,1628.9 982.9,1626.8 983.9,1625.1 984.9,1623.9 985.9,1623.4 986.9,1623.5 987.9,1624.1 988.9,1625.0 989.9,1626.0 990.9,1627.0 991.9,1628.2 992.9,1629.9 993.9,1631.8 994.9,1633.6 995.9,1635.0 996.9,1635.8 997.9,1635.8 998.9,1635.6 999.9,1635.2 1000.9,1634.7 1001.9,1633.9 1002.9,1632.3 1003.9,1630.2 1004.9,1628.1 1005.9,1626.2 1006.9,1624.9 1007.9,1624.3 1008.9,1623.9 1009.9,1623.5 1010.9,1623.2 1011.9,1623.0 1012.9,1622.9 1013.9,1622.9 1014.9,1623.3 1015.9,1624.1 1016.9,1625.2 1017.9,1626.3 1018.9,1627.4 1019.9,1628.4 1020.9,1629.3 1021.9,1630.4 1022.9,1631.4 1023.9,1632.4 1024.9,1633.0 1025.9,1633.4 1026.9,1633.3 1027.9,1633.2 1028.9,1632.9 1029.9,1632.6 1030.9,1632.2 1031.9,1631.6 1032.9,1630.4 1033.9,1628.8 1034.9,1627.0 1035.9,1625.1 1036.9,1623.2 1037.9,1621.7 1038.9,1620.6 1039.9,1619.7 1040.9,1618.8 1041.9,1617.9 1042.9,1617.1 1043.9,1616.5 1044.9,1616.1 1045.9,1615.9 1046.9,1616.0 1047.9,1616.4 1048.9,1616.8 1049.9,1617.1 1050.9,1617.1 1051.9,1617.0 1052.9,1617.0 1053.9,1616.9 1054.9,1616.7 1055.9,1616.6 1056.9,1616.4 1057.9,1616.3 1058.9,1615.9 1059.9,1615.3 1060.9,1614.6 1061.9,1613.9 1062.9,1613.1 1063.9,1612.3 1064.9,1611.7 1065.9,1611.2 1066.9,1610.9 1067.9,1610.9 1068.9,1611.3 1069.9,1612.1 1070.9,1613.2 1071.9,1614.5 1072.9,1616.1 1073.9,1617.7 1074.9,1619.4 1075.9,1621.0 1076.9,1622.5 1077.9,1623.8 1078.9,1625.2 1079.9,1626.8 1080.9,1628.5 1081.9,1630.1 1082.9,1631.7 1083.9,1633.1 1084.9,1634.3 1085.9,1635.2 1086.9,1635.8 1087.9,1635.9 1088.9,1635.8 1089.9,1635.6 1090.9,1635.3 1091.9,1634.9 1092.9,1634.5 1093.9,1633.7 1094.9,1632.3 1095.9,1630.6 1096.9,1628.6 1097.9,1626.4 1098.9,1624.1 1099.9,1621.7 1100.9,1619.4 1101.9,1617.3 1102.9,1615.3 1103.9,1613.2 1104.9,1610.8 1105.9,1608.3 1106.9,1605.9 1107.9,1603.7 1108.9,1601.8 1109.9,1600.4 1110.9,1599.7 1111.9,1599.5 1112.9,1599.5 1113.9,1599.5 1114.9,1599.5 1115.9,1599.5 1116.9,1599.5 1117.9,1599.6 1118.9,1600.3 1119.9,1602.0 1120.9,1604.2 1121.9,1606.9 1122.9,1609.8 1123.9,1612.6 1124.9,1615.2 1125.9,1617.5 1126.9,1620.1 1127.9,1622.9 1128.9,1625.7 1129.9,1628.5 1130.9,1631.2 1131.9,1633.6 1132.9,1635.6 1133.9,1637.0 1134.9,1637.8 1135.9,1638.0 1136.9,1638.2 1137.9,1638.3 1138.9,1638.4 1139.9,1638.4 1140.9,1637.5 1141.9,1633.5 1142.9,1627.6 1143.9,1620.9 1144.9,1615.0 1145.9,1610.5 1146.9,1606.1 1147.9,1601.7 1148.9,1597.5 1149.9,1593.4 1150.9,1589.4 1151.9,1585.7 1152.9,1582.3 1153.9,1579.3 1154.9,1576.6 1155.9,1574.3 1156.9,1572.2 1157.9,1570.1 1158.9,1568.3 1159.9,1566.6 1160.9,1565.2 1161.9,1564.0 1162.9,1563.1 1163.9,1562.4 1164.9,1561.7 1165.9,1561.2 1166.9,1560.8 1167.9,1560.7 1168.9,1560.8 1169.9,1561.2 1170.9,1561.8 1171.9,1562.5 1172.9,1563.4 1173.9,1564.3 1174.9,1565.5 1175.9,1567.5 1176.9,1570.0 1177.9,1573.0 1178.9,1576.1 1179.9,1579.3 1180.9,1582.6 1181.9,1586.3 1182.9,1590.4 1183.9,1594.6 1184.9,1598.9 1185.9,1603.0 1186.9,1606.9 1187.9,1610.9 1188.9,1615.0 1189.9,1619.0 1190.9,1622.7 1191.9,1625.9 1192.9,1628.4 1193.9,1630.6 1194.9,1632.6 1195.9,1634.5 1196.9,1636.2 1197.9,1637.5 1198.9,1638.2 1199.9,1638.4 1200.9,1638.0 1201.9,1637.1 1202.9,1635.9 1203.9,1634.5 1204.9,1633.1 1205.9,1631.8 1206.9,1630.6 1207.9,1629.4 1208.9,1628.1 1209.9,1626.8 1210.9,1625.7 1211.9,1624.9 1212.9,1624.6 1213.9,1624.6 1214.9,1624.6 1215.9,1624.6 1216.9,1624.6 1217.9,1625.4 1218.9,1627.0 1219.9,1629.2 1220.9,1631.6 1221.9,1633.9 1222.9,1635.8 1223.9,1637.4 1224.9,1639.2 1225.9,1640.8 1226.9,1642.3 1227.9,1643.6 1228.9,1644.5 1229.9,1645.0 1230.9,1645.3 1231.9,1645.6 1232.9,1645.8 1233.9,1646.0 1234.9,1646.2 1235.9,1646.4 1236.9,1646.7 1237.9,1647.1 1238.9,1648.0 1239.9,1649.6 1240.9,1651.5 1241.9,1653.4 1242.9,1655.0 1243.9,1655.9 1244.9,1655.9 1245.9,1655.8 1246.9,1655.6 1247.9,1655.3 1248.9,1654.9 1249.9,1653.8 1250.9,1650.6 1251.9,1646.2 1252.9,1641.9 1253.9,1638.9 1254.9,1637.9 1255.9,1637.3 1256.9,1636.7 1257.9,1636.3 1258.9,1636.0 1259.9,1635.9 1260.9,1636.4 1261.9,1638.0 1262.9,1640.4 1263.9,1643.1 1264.9,1645.7 1265.9,1647.9 1266.9,1650.3 1267.9,1652.9 1268.9,1655.3 1269.9,1657.2 1270.9,1658.3 1271.9,1658.1 1272.9,1656.1 1273.9,1653.0 1274.9,1649.4 1275.9,1645.9 1276.9,1643.3 1277.9,1641.2 1278.9,1639.0 1279.9,1637.0 1280.9,1635.2 1281.9,1634.0 1282.9,1633.4 1283.9,1633.5 1284.9,1633.8 1285.9,1634.3 1286.9,1635.0 1287.9,1635.7 1288.9,1636.7 1289.9,1638.2 1290.9,1640.0 1291.9,1642.1 1292.9,1644.2 1293.9,1646.3 1294.9,1648.2 1295.9,1650.4 1296.9,1652.7 1297.9,1654.6 1298.9,1655.8 1299.9,1655.9 1300.9,1655.5 1301.9,1654.7 1302.9,1653.7 1303.9,1652.5 1304.9,1651.2 1305.9,1649.9 1306.9,1648.6 1307.9,1647.5 1308.9,1646.4 1309.9,1645.1 1310.9,1643.8 1311.9,1642.5 1312.9,1641.4 1313.9,1640.4 1314.9,1639.8 1315.9,1639.7 1316.9,1639.9 1317.9,1640.3 1318.9,1641.0 1319.9,1641.8 1320.9,1642.7 1321.9,1643.6 1322.9,1644.4 1323.9,1645.2 1324.9,1646.2 1325.9,1647.3 1326.9,1648.5 1327.9,1649.6 1328.9,1650.6 1329.9,1651.4 1330.9,1652.0 1331.9,1652.2 1332.9,1651.8 1333.9,1650.8 1334.9,1649.2 1335.9,1647.2 1336.9,1645.1 1337.9,1643.0 1338.9,1641.0 1339.9,1639.4 1340.9,1638.3 1341.9,1637.4 1342.9,1636.6 1343.9,1635.9 1344.9,1635.2 1345.9,1634.8 1346.9,1634.6 1347.9,1634.8 1348.9,1635.3 1349.9,1636.2 1350.9,1637.2 1351.9,1638.2 1352.9,1639.3 1353.9,1640.3 1354.9,1641.5 1355.9,1643.0 1356.9,1644.5 1357.9,1646.0 1358.9,1647.4 1359.9,1648.5 1360.9,1649.3 1361.9,1649.7 1362.9,1649.4 1363.9,1648.3 1364.9,1646.7 1365.9,1644.9 1366.9,1643.0 1367.9,1641.5 1368.9,1640.3 1369.9,1639.0 1370.9,1637.8 1371.9,1636.6 1372.9,1635.7 1373.9,1635.0 1374.9,1634.7 1375.9,1634.8 1376.9,1635.5 1377.9,1636.6 1378.9,1638.0 1379.9,1639.5 1380.9,1641.1 1381.9,1642.7 1382.9,1644.1 1383.9,1645.3 1384.9,1646.6 1385.9,1648.0 1386.9,1649.5 1387.9,1650.8 1388.9,1652.1 1389.9,1653.2 1390.9,1654.1 1391.9,1654.6 1392.9,1654.7 1393.9,1653.9 1394.9,1652.4 1395.9,1650.3 1396.9,1647.9 1397.9,1645.4 1398.9,1643.0 1399.9,1641.1 1400.9,1639.7 1401.9,1638.7 1402.9,1637.8 1403.9,1636.9 1404.9,1636.1 1405.9,1635.4 1406.9,1634.9 1407.9,1634.7 1408.9,1634.7 1409.9,1635.4 1410.9,1636.8 1411.9,1638.5 1412.9,1640.4 1413.9,1642.4 1414.9,1644.3 1415.9,1645.8 1416.9,1647.2 1417.9,1648.8 1418.9,1650.3 1419.9,1651.8 1420.9,1653.1 1421.9,1654.0 1422.9,1654.6 1423.9,1654.7 1424.9,1654.4 1425.9,1653.9 1426.9,1653.2 1427.9,1652.3 1428.9,1651.3 1429.9,1650.2 1430.9,1649.1 1431.9,1648.0 1432.9,1647.0 1433.9,1646.1 1434.9,1645.3 1435.9,1644.7 1436.9,1644.3 1437.9,1644.0 1438.9,1643.7 1439.9,1643.4 1440.9,1643.1 1441.9,1642.8 1442.9,1642.4 1443.9,1642.0 1444.9,1641.2 1445.9,1640.1 1446.9,1639.0 1447.9,1638.1 1448.9,1637.4 1449.9,1637.1 1450.9,1637.4 1451.9,1638.0 1452.9,1638.9 1453.9,1639.9 1454.9,1641.0 1455.9,1642.1 1456.9,1643.1 1457.9,1643.9 1458.9,1644.5 1459.9,1644.7 1460.9,1644.3 1461.9,1643.5 1462.9,1642.3 1463.9,1640.9 1464.9,1639.5 1465.9,1638.3 1466.9,1637.5 1467.9,1637.1 1468.9,1636.9 1469.9,1636.7 1470.9,1636.6 1471.9,1636.5 1472.9,1636.4 1473.9,1636.4 1474.9,1636.8 1475.9,1637.7 1476.9,1639.2 1477.9,1640.9 1478.9,1642.6 1479.9,1644.2 1480.9,1645.8 1481.9,1647.6 1482.9,1649.6 1483.9,1651.4 1484.9,1652.9 1485.9,1653.8 1486.9,1653.9 1487.9,1653.5 1488.9,1652.7 1489.9,1651.7 1490.9,1650.5 1491.9,1649.3 1492.9,1648.2 1493.9,1647.0 1494.9,1645.7 1495.9,1644.2 1496.9,1642.7 1497.9,1641.3 1498.9,1639.9 1499.9,1638.8 1500.9,1637.8 1501.9,1636.8 1502.9,1636.0 1503.9,1635.1 1504.9,1634.3 1505.9,1633.6 1506.9,1632.9 1507.9,1632.2 1508.9,1631.6 1509.9,1631.1 1510.9,1630.6 1511.9,1630.0 1512.9,1629.5 1513.9,1629.0 1514.9,1628.5 1515.9,1628.2 1516.9,1627.9 1517.9,1627.9 1518.9,1628.0 1519.9,1628.3 1520.9,1628.8 1521.9,1629.5 1522.9,1630.2 1523.9,1631.0 1524.9,1631.8 1525.9,1632.7 1526.9,1633.8 1527.9,1635.2 1528.9,1636.7 1529.9,1638.4 1530.9,1640.1 1531.9,1641.8 1532.9,1643.5 1533.9,1645.5 1534.9,1647.8 1535.9,1650.2 1536.9,1652.6 1537.9,1654.6 1538.9,1656.2 1539.9,1657.1 1540.9,1657.2 1541.9,1657.0 1542.9,1656.8 1543.9,1656.5 1544.9,1656.1 1545.9,1655.6 1546.9,1654.7 1547.9,1653.3 1548.9,1651.8 1549.9,1650.2 1550.9,1648.8 1551.9,1647.7 1552.9,1647.2 1553.9,1647.0 1554.9,1646.8 1555.9,1646.7 1556.9,1646.6 1557.9,1646.5 1558.9,1646.5 1559.9,1646.4 1560.9,1646.3 1561.9,1646.1 1562.9,1645.9 1563.9,1645.5 1564.9,1644.6 1565.9,1643.5 1566.9,1642.3 1567.9,1641.0 1568.9,1639.8 1569.9,1638.8 1570.9,1638.1 1571.9,1637.4 1572.9,1636.8 1573.9,1636.2 1574.9,1635.9 1575.9,1635.9 1576.9,1636.0 1577.9,1636.2 1578.9,1636.6 1579.9,1636.9 1580.9,1637.4 1581.9,1638.3 1582.9,1639.6 1583.9,1641.2 1584.9,1643.1 1585.9,1644.9 1586.9,1646.7 1587.9,1648.3 1588.9,1649.9 1589.9,1651.7 1590.9,1653.6 1591.9,1655.2 1592.9,1656.5 1593.9,1657.1 1594.9,1657.1 1595.9,1656.5 1596.9,1655.5 1597.9,1654.2 1598.9,1652.8 1599.9,1651.4 1600.9,1650.1 1601.9,1649.1 1602.9,1648.5 1603.9,1648.2 1604.9,1647.9 1605.9,1647.6 1606.9,1647.4 1607.9,1647.3 1608.9,1647.2 1609.9,1647.2 1610.9,1647.4 1611.9,1647.7 1612.9,1648.2 1613.9,1648.7 1614.9,1649.2 1615.9,1649.8 1616.9,1650.4 1617.9,1650.9 1618.9,1651.4 1619.9,1651.9 1620.9,1652.6 1621.9,1653.2 1622.9,1653.9 1623.9,1654.5 1624.9,1655.1 1625.9,1655.5 1626.9,1655.8 1627.9,1655.9 1628.9,1655.9 1629.9,1655.7 1630.9,1655.3 1631.9,1654.8 1632.9,1654.3 1633.9,1653.7 1634.9,1653.0 1635.9,1652.3 1636.9,1651.7 1637.9,1651.1 1638.9,1650.4 1639.9,1649.7 1640.9,1648.9 1641.9,1648.1 1642.9,1647.2 1643.9,1646.3 1644.9,1645.4 1645.9,1644.6 1646.9,1643.8 1647.9,1643.2 1648.9,1642.7 1649.9,1642.3 1650.9,1642.1 1651.9,1642.0 1652.9,1641.9 1653.9,1641.8 1654.9,1641.7 1655.9,1641.6 1656.9,1641.5 1657.9,1641.5 1658.9,1641.4 1659.9,1641.4 1660.9,1641.4 1661.9,1641.4 1662.9,1641.4 1663.9,1641.4 1664.9,1641.5 1665.9,1641.5 1666.9,1641.6 1667.9,1641.6 1668.9,1641.7 1669.9,1641.7 1670.9,1641.8 1671.9,1641.9 1672.9,1642.0 1673.9,1642.1 1674.9,1642.2 1675.9,1642.7 1676.9,1643.4 1677.9,1644.3 1678.9,1645.3 1679.9,1646.4 1680.9,1647.3 1681.9,1648.3 1682.9,1649.4 1683.9,1650.6 1684.9,1651.8 1685.9,1653.1 1686.9,1654.3 1687.9,1655.5 1688.9,1656.6 1689.9,1657.7 1690.9,1658.6 1691.9,1659.6 1692.9,1660.5 1693.9,1661.4 1694.9,1662.0 1695.9,1662.2 1696.9,1662.2 1697.9,1662.1 1698.9,1662.0 1699.9,1661.9 1700.9,1661.8 1701.9,1661.6 1702.9,1661.4 1703.9,1661.1 1704.9,1660.8 1705.9,1659.7 1706.9,1657.8 1707.9,1655.5 1708.9,1652.9 1709.9,1650.4 1710.9,1648.2 1711.9,1646.1 1712.9,1643.7 1713.9,1641.2 1714.9,1638.9 1715.9,1636.7 1716.9,1635.0 1717.9,1633.7 1718.9,1633.0 1719.9,1632.4 1720.9,1632.0 1721.9,1631.6 1722.9,1631.4 1723.9,1631.4 1724.9,1631.8 1725.9,1632.4 1726.9,1633.3 1727.9,1634.2 1728.9,1635.3 1729.9,1637.1 1730.9,1639.4 1731.9,1642.0 1732.9,1644.6 1733.9,1647.0 1734.9,1648.9 1735.9,1650.9 1736.9,1652.9 1737.9,1654.6 1738.9,1655.7 1739.9,1655.9 1740.9,1655.6 1741.9,1654.9 1742.9,1653.9 1743.9,1652.8 1744.9,1650.7 1745.9,1647.7 1746.9,1644.3 1747.9,1640.6 1748.9,1636.9 1749.9,1633.6 1750.9,1630.9 1751.9,1628.5 1752.9,1626.1 1753.9,1623.6 1754.9,1621.4 1755.9,1619.4 1756.9,1618.0 1757.9,1617.2 1758.9,1617.1 1759.9,1617.1 1760.9,1617.1 1761.9,1617.1 1762.9,1617.3 1763.9,1618.2 1764.9,1619.7 1765.9,1621.4 1766.9,1623.3 1767.9,1625.0 1768.9,1626.5 1769.9,1627.9 1770.9,1629.3 1771.9,1630.8 1772.9,1632.2 1773.9,1633.7 1774.9,1635.1 1775.9,1636.4 1776.9,1637.7 1777.9,1639.0 1778.9,1640.1 1779.9,1641.2 1780.9,1642.3 1781.9,1643.4 1782.9,1644.4 1783.9,1645.4 1784.9,1646.3 1785.9,1647.3 1786.9,1648.2 1787.9,1649.1 1788.9,1650.0 1789.9,1651.1 1790.9,1652.2 1791.9,1653.0 1792.9,1653.4 1793.9,1652.6 1794.9,1650.1 1795.9,1646.4 1796.9,1642.2 1797.9,1638.1 1798.9,1634.7 1799.9,1631.2 1800.9,1627.4 1801.9,1623.7 1802.9,1620.0 1803.9,1616.8 1804.9,1614.2 1805.9,1612.3 1806.9,1611.0 1807.9,1609.9 1808.9,1608.9 1809.9,1608.0 1810.9,1607.4 1811.9,1607.1 1812.9,1607.1 1813.9,1607.2 1814.9,1607.5 1815.9,1607.8 1816.9,1608.1 1817.9,1608.6 1818.9,1609.5 1819.9,1610.7 1820.9,1612.2 1821.9,1613.9 1822.9,1615.7 1823.9,1617.4 1824.9,1619.1 1825.9,1620.6 1826.9,1621.9 1827.9,1623.1 1828.9,1624.4 1829.9,1625.6 1830.9,1626.8 1831.9,1627.9 1832.9,1628.9 1833.9,1629.9 1834.9,1630.7 1835.9,1631.6 1836.9,1632.4 1837.9,1633.1 1838.9,1633.8 1839.9,1634.5 1840.9,1635.1 1841.9,1635.6 1842.4,1635.9"/>
<polyline stroke="#ff0000" stroke-width="4.4" points="197.6,1637.1 205.6,1613.3 210.2,1618.3 216.4,1634.6 222.7,1633.4 227.2,1617.8 229.0,1618.3 233.2,1654.7 237.7,1640.9 242.7,1643.4 247.8,1642.2 255.3,1630.9 260.3,1639.7 265.3,1629.6 267.8,1632.1 272.1,1649.7 277.8,1640.9 282.9,1639.7 287.9,1648.4 294.1,1644.7 299.1,1639.7 305.4,1652.2 310.4,1653.9 315.9,1647.2 321.7,1649.7 326.7,1653.4 332.2,1644.7 336.7,1645.9 349.3,1654.7 358.1,1649.7 364.3,1649.7 370.6,1661.0 375.6,1645.9 381.9,1625.9 386.9,1624.6 392.4,1627.1 398.2,1613.3 403.7,1592.0 409.4,1595.8 414.5,1599.5 419.5,1575.7 425.7,1544.4 431.2,1536.9 435.8,1508.1 440.8,1440.4 447.5,1381.5 453.3,1389.0 458.3,1386.5 463.3,1310.9 468.8,1225.7 474.6,1227.7 480.9,1336.0 485.9,1411.2 490.9,1386.1 498.4,1235.7 508.5,1085.3 514.0,1046.5 518.5,1065.3 526.0,1185.6 533.5,1336.0 543.5,1475.5 556.1,1649.7 562.3,1648.4 568.1,1655.9 573.6,1635.9 579.9,1610.8 584.9,1609.6 589.9,1628.4 595.7,1648.4 595.9,1648.4 596.9,1647.4 597.9,1645.1 598.9,1642.0 599.9,1638.3 600.9,1634.3 601.9,1630.2 602.9,1626.5 603.9,1623.3 604.9,1620.9 605.9,1619.7 606.9,1619.7 607.9,1620.4 608.9,1621.6 609.9,1623.1 610.9,1625.0 611.9,1627.0 612.9,1629.4 613.9,1633.7 614.9,1639.3 615.9,1644.8 616.9,1648.6 617.9,1649.8 618.9,1650.2 619.9,1650.6 620.9,1650.8 621.9,1650.9 622.9,1650.8 623.9,1648.5 624.9,1644.5 625.9,1639.5 626.9,1634.5 627.9,1630.5 628.9,1628.3 629.9,1627.1 630.9,1626.1 631.9,1625.3 632.9,1624.8 633.9,1624.6 634.9,1625.5 635.9,1627.6 636.9,1630.3 637.9,1633.2 638.9,1635.6 639.9,1637.0 640.9,1637.5 641.9,1637.8 642.9,1638.1 643.9,1638.3 644.9,1638.4 645.9,1637.5 646.9,1634.2 647.9,1629.4 648.9,1624.1 649.9,1619.3 650.9,1615.0 651.9,1610.1 652.9,1605.1 653.9,1600.5 654.9,1596.9 655.9,1594.8 656.9,1594.8 657.9,1596.6 658.9,1599.7 659.9,1603.3 660.9,1606.8 661.9,1609.8 662.9,1613.3 663.9,1617.1 664.9,1620.5 665.9,1623.2 666.9,1624.5 667.9,1623.6 668.9,1619.4 669.9,1613.0 670.9,1605.6 671.9,1598.2 672.9,1592.1 673.9,1585.4 674.9,1578.2 675.9,1571.4 676.9,1566.1 677.9,1563.4 678.9,1563.2 679.9,1563.5 680.9,1563.8 681.9,1564.3 682.9,1565.0 683.9,1565.7 684.9,1567.3 685.9,1570.3 686.9,1574.0 687.9,1577.5 688.9,1580.0 689.9,1580.7 690.9,1579.3 691.9,1576.2 692.9,1572.0 693.9,1567.2 694.9,1562.3 695.9,1557.2 696.9,1550.4 697.9,1543.0 698.9,1536.3 699.9,1531.6 700.9,1529.3 701.9,1527.5 702.9,1526.0 703.9,1524.9 704.9,1524.4 705.9,1524.8 706.9,1527.3 707.9,1531.0 708.9,1535.2 709.9,1538.9 710.9,1541.4 711.9,1541.9 712.9,1541.9 713.9,1541.9 714.9,1541.9 715.9,1541.9 716.9,1541.6 717.9,1537.8 718.9,1531.2 719.9,1523.5 720.9,1516.5 721.9,1511.7 722.9,1507.5 723.9,1503.5 724.9,1499.9 725.9,1497.2 726.9,1495.7 727.9,1496.0 728.9,1498.9 729.9,1503.7 730.9,1509.5 731.9,1515.5 732.9,1520.8 733.9,1526.4 734.9,1532.9 735.9,1539.5 736.9,1545.5 737.9,1550.2 738.9,1552.9 739.9,1553.8 740.9,1554.6 741.9,1555.1 742.9,1555.5 743.9,1555.7 744.9,1555.0 745.9,1552.3 746.9,1548.2 747.9,1543.5 748.9,1538.7 749.9,1534.7 750.9,1531.7 751.9,1528.7 752.9,1525.8 753.9,1523.4 754.9,1522.0 755.9,1522.1 756.9,1523.7 757.9,1526.6 758.9,1530.4 759.9,1534.9 760.9,1539.6 761.9,1544.2 762.9,1549.8 763.9,1556.4 764.9,1563.5 765.9,1570.6 766.9,1577.1 767.9,1584.5 768.9,1592.5 769.9,1599.5 770.9,1604.4 771.9,1605.7 772.9,1602.2 773.9,1595.4 774.9,1587.4 775.9,1580.1 776.9,1571.9 777.9,1563.0 778.9,1553.7 779.9,1544.7 780.9,1536.5 781.9,1529.5 782.9,1522.6 783.9,1515.6 784.9,1509.0 785.9,1503.5 786.9,1499.6 787.9,1498.0 788.9,1498.5 789.9,1499.9 790.9,1502.1 791.9,1504.9 792.9,1508.2 793.9,1511.7 794.9,1515.9 795.9,1522.0 796.9,1529.8 797.9,1538.6 798.9,1548.0 799.9,1557.5 800.9,1566.6 801.9,1576.4 802.9,1586.8 803.9,1597.2 804.9,1607.3 805.9,1616.8 806.9,1627.5 807.9,1638.3 808.9,1646.8 809.9,1650.9 810.9,1648.5 811.9,1640.8 812.9,1629.9 813.9,1618.0 814.9,1606.5 815.9,1592.8 816.9,1577.5 817.9,1561.4 818.9,1545.3 819.9,1530.0 820.9,1516.3 821.9,1502.9 822.9,1489.6 823.9,1477.3 824.9,1466.6 825.9,1458.0 826.9,1449.8 827.9,1442.2 828.9,1435.9 829.9,1431.7 830.9,1430.1 831.9,1429.4 832.9,1428.9 833.9,1428.4 834.9,1428.1 835.9,1427.9 836.9,1427.8 837.9,1428.9 838.9,1431.8 839.9,1436.2 840.9,1441.5 841.9,1447.6 842.9,1453.9 843.9,1460.0 844.9,1465.9 845.9,1472.5 846.9,1479.6 847.9,1487.1 848.9,1494.8 849.9,1502.4 850.9,1509.8 851.9,1517.3 852.9,1524.9 853.9,1532.7 854.9,1540.3 855.9,1547.7 856.9,1554.8 857.9,1561.4 858.9,1567.6 859.9,1573.6 860.9,1579.5 861.9,1585.1 862.9,1590.4 863.9,1595.4 864.9,1600.0 865.9,1604.1 866.9,1608.1 867.9,1611.9 868.9,1615.5 869.9,1618.7 870.9,1621.3 871.9,1623.3 872.9,1624.6 873.9,1625.8 874.9,1626.7 875.9,1627.6 876.9,1628.3 877.9,1629.0 878.9,1629.7 879.9,1630.2 880.9,1630.8 881.9,1631.3 882.9,1631.7 883.9,1632.2 884.9,1632.6 885.9,1633.1 886.9,1633.6 887.9,1634.1 888.9,1634.7 889.9,1635.3 890.9,1636.0 891.9,1636.8 892.9,1637.7 893.9,1638.8 894.9,1639.9 895.9,1641.0 896.9,1642.1 897.9,1643.2 898.9,1644.2 899.9,1645.2 900.9,1646.0 901.9,1646.7 902.9,1647.4 903.9,1648.1 904.9,1648.7 905.9,1649.2 906.9,1649.8 907.9,1650.4 908.9,1650.9 909.9,1651.5 910.9,1652.0 911.9,1652.6 912.9,1653.2 913.9,1653.8 914.9,1654.5 915.9,1655.1 916.9,1655.8 917.9,1656.5 918.9,1657.2 919.9,1657.8 920.9,1658.4 921.9,1659.0 922.9,1659.5 923.9,1659.9 924.9,1660.4 925.9,1660.9 926.9,1661.3 927.9,1661.7 928.9,1661.9 929.9,1662.1 930.9,1662.2 931.9,1662.0 932.9,1661.4 933.9,1660.5 934.9,1659.5 935.9,1658.4 936.9,1657.4 937.9,1656.6 938.9,1656.1 939.9,1655.9 940.9,1656.0 941.9,1656.1 942.9,1656.3 943.9,1656.4 944.9,1656.6 945.9,1656.8 946.9,1657.0 947.9,1657.1 948.9,1657.2 949.9,1657.2 950.9,1656.5 951.9,1655.1 952.9,1653.5 953.9,1651.9 954.9,1650.7 955.9,1649.7 956.9,1648.6 957.9,1647.6 958.9,1646.7 959.9,1646.2 960.9,1645.9 961.9,1646.2 962.9,1647.0 963.9,1648.1 964.9,1649.5 965.9,1650.9 966.9,1652.1 967.9,1653.1 968.9,1653.6 969.9,1654.1 970.9,1654.5 971.9,1654.9 972.9,1655.2 973.9,1655.4 974.9,1655.4 975.9,1654.4 976.9,1652.4 977.9,1649.8 978.9,1647.4 979.9,1645.7 980.9,1644.4 981.9,1643.0 982.9,1641.7 983.9,1640.7 984.9,1640.0 985.9,1639.7 986.9,1639.9 987.9,1640.8 988.9,1642.0 989.9,1643.3 990.9,1644.5 991.9,1645.8 992.9,1647.3 993.9,1648.9 994.9,1650.3 995.9,1651.5 996.9,1652.1 997.9,1652.0 998.9,1651.3 999.9,1650.0 1000.9,1648.4 1001.9,1646.8 1002.9,1645.4 1003.9,1644.3 1004.9,1643.3 1005.9,1642.2 1006.9,1641.2 1007.9,1640.4 1008.9,1639.8 1009.9,1639.7 1010.9,1639.8 1011.9,1640.3 1012.9,1640.9 1013.9,1641.6 1014.9,1642.4 1015.9,1643.3 1016.9,1644.2 1017.9,1645.5 1018.9,1647.0 1019.9,1648.6 1020.9,1650.1 1021.9,1651.3 1022.9,1652.0 1023.9,1652.2 1024.9,1651.9 1025.9,1651.4 1026.9,1650.7 1027.9,1649.9 1028.9,1649.0 1029.9,1648.1 1030.9,1647.3 1031.9,1646.6 1032.9,1645.7 1033.9,1644.8 1034.9,1643.8 1035.9,1642.8 1036.9,1641.8 1037.9,1641.0 1038.9,1640.4 1039.9,1639.9 1040.9,1639.7 1041.9,1639.8 1042.9,1640.2 1043.9,1640.8 1044.9,1641.6 1045.9,1642.4 1046.9,1643.3 1047.9,1644.0 1048.9,1644.5 1049.9,1644.7 1050.9,1644.6 1051.9,1644.4 1052.9,1644.1 1053.9,1643.7 1054.9,1643.3 1055.9,1642.9 1056.9,1642.4 1057.9,1642.0 1058.9,1641.4 1059.9,1640.7 1060.9,1640.0 1061.9,1639.2 1062.9,1638.5 1063.9,1637.9 1064.9,1637.4 1065.9,1637.2 1066.9,1637.2 1067.9,1637.6 1068.9,1638.3 1069.9,1639.2 1070.9,1640.2 1071.9,1641.4 1072.9,1642.5 1073.9,1643.6 1074.9,1644.5 1075.9,1645.4 1076.9,1646.4 1077.9,1647.5 1078.9,1648.6 1079.9,1649.6 1080.9,1650.7 1081.9,1651.7 1082.9,1652.5 1083.9,1653.2 1084.9,1653.7 1085.9,1653.9 1086.9,1653.9 1087.9,1653.5 1088.9,1652.9 1089.9,1652.1 1090.9,1651.1 1091.9,1650.1 1092.9,1649.1 1093.9,1648.1 1094.9,1647.3 1095.9,1646.6 1096.9,1645.8 1097.9,1645.0 1098.9,1644.2 1099.9,1643.3 1100.9,1642.6 1101.9,1642.0 1102.9,1641.4 1103.9,1641.1 1104.9,1640.9 1105.9,1640.9 1106.9,1640.9 1107.9,1640.9 1108.9,1640.9 1109.9,1640.9 1110.9,1640.9 1111.9,1640.9 1112.9,1640.9 1113.9,1640.9 1114.9,1640.9 1115.9,1640.9 1116.9,1641.1 1117.9,1641.3 1118.9,1641.6 1119.9,1642.0 1120.9,1642.4 1121.9,1642.9 1122.9,1643.4 1123.9,1643.9 1124.9,1644.5 1125.9,1645.0 1126.9,1645.5 1127.9,1646.0 1128.9,1646.6 1129.9,1647.3 1130.9,1648.0 1131.9,1648.8 1132.9,1649.6 1133.9,1650.4 1134.9,1651.1 1135.9,1651.8 1136.9,1652.4 1137.9,1652.9 1138.9,1653.3 1139.9,1653.4 1140.9,1653.4 1141.9,1653.0 1142.9,1652.3 1143.9,1651.3 1144.9,1650.2 1145.9,1649.0 1146.9,1647.7 1147.9,1646.4 1148.9,1645.0 1149.9,1643.8 1150.9,1642.7 1151.9,1641.4 1152.9,1640.0 1153.9,1638.5 1154.9,1637.1 1155.9,1635.7 1156.9,1634.3 1157.9,1633.1 1158.9,1632.0 1159.9,1631.1 1160.9,1630.5 1161.9,1629.9 1162.9,1629.3 1163.9,1628.7 1164.9,1628.2 1165.9,1627.8 1166.9,1627.4 1167.9,1627.2 1168.9,1627.1 1169.9,1627.2 1170.9,1627.3 1171.9,1627.6 1172.9,1628.0 1173.9,1628.5 1174.9,1629.0 1175.9,1629.6 1176.9,1630.3 1177.9,1630.9 1178.9,1631.8 1179.9,1633.0 1180.9,1634.4 1181.9,1636.0 1182.9,1637.7 1183.9,1639.5 1184.9,1641.3 1185.9,1643.0 1186.9,1644.6 1187.9,1646.0 1188.9,1647.3 1189.9,1648.7 1190.9,1650.2 1191.9,1651.7 1192.9,1653.1 1193.9,1654.5 1194.9,1655.8 1195.9,1656.9 1196.9,1657.8 1197.9,1658.5 1198.9,1658.9 1199.9,1658.9 1200.9,1658.8 1201.9,1658.4 1202.9,1657.9 1203.9,1657.3 1204.9,1656.7 1205.9,1656.0 1206.9,1655.3 1207.9,1654.7 1208.9,1654.0 1209.9,1653.2 1210.9,1652.3 1211.9,1651.4 1212.9,1650.7 1213.9,1650.1 1214.9,1649.7 1215.9,1649.7 1216.9,1649.9 1217.9,1650.2 1218.9,1650.7 1219.9,1651.2 1220.9,1651.8 1221.9,1652.4 1222.9,1652.9 1223.9,1653.4 1224.9,1653.8 1225.9,1654.0 1226.9,1654.2 1227.9,1654.4 1228.9,1654.5 1229.9,1654.7 1230.9,1654.8 1231.9,1654.9 1232.9,1655.0 1233.9,1655.2 1234.9,1655.3 1235.9,1655.5 1236.9,1655.8 1237.9,1656.1 1238.9,1656.4 1239.9,1656.8 1240.9,1657.1 1241.9,1657.5 1242.9,1657.8 1243.9,1658.1 1244.9,1658.3 1245.9,1658.4 1246.9,1658.5 1247.9,1658.3 1248.9,1658.0 1249.9,1657.5 1250.9,1656.9 1251.9,1656.3 1252.9,1655.6 1253.9,1655.0 1254.9,1654.4 1255.9,1653.9 1256.9,1653.6 1257.9,1653.4 1258.9,1653.5 1259.9,1653.7 1260.9,1653.9 1261.9,1654.3 1262.9,1654.7 1263.9,1655.1 1264.9,1655.6 1265.9,1656.1 1266.9,1657.0 1267.9,1658.2 1268.9,1659.3 1269.9,1660.3 1270.9,1660.9 1271.9,1660.9 1272.9,1660.4 1273.9,1659.6 1274.9,1658.6 1275.9,1657.5 1276.9,1656.4 1277.9,1655.4 1278.9,1654.6 1279.9,1654.1 1280.9,1653.9 1281.9,1654.0 1282.9,1654.0 1283.9,1654.1 1284.9,1654.2 1285.9,1654.4 1286.9,1654.5 1287.9,1654.7 1288.9,1654.9 1289.9,1655.3 1290.9,1656.0 1291.9,1656.7 1292.9,1657.6 1293.9,1658.4 1294.9,1659.3 1295.9,1660.0 1296.9,1660.7 1297.9,1661.2 1298.9,1661.4 1299.9,1661.4 1300.9,1661.2 1301.9,1660.8 1302.9,1660.3 1303.9,1659.7 1304.9,1659.0 1305.9,1658.3 1306.9,1657.6 1307.9,1657.0 1308.9,1656.5 1309.9,1656.1 1310.9,1655.9 1311.9,1655.8 1312.9,1655.7 1313.9,1655.6 1314.9,1655.6 1315.9,1655.5 1316.9,1655.5 1317.9,1655.4 1318.9,1655.5 1319.9,1655.7 1320.9,1656.1 1321.9,1656.6 1322.9,1657.3 1323.9,1658.0 1324.9,1658.7 1325.9,1659.4 1326.9,1660.1 1327.9,1660.8 1328.9,1661.3 1329.9,1661.8 1330.9,1662.1 1331.9,1662.2 1332.9,1662.1 1333.9,1661.7 1334.9,1661.2 1335.9,1660.5 1336.9,1659.7 1337.9,1658.8 1338.9,1657.9 1339.9,1657.0 1340.9,1656.2 1341.9,1655.5 1342.9,1655.0 1343.9,1654.7 1344.9,1654.7 1345.9,1654.7 1346.9,1654.8 1347.9,1655.0 1348.9,1655.1 1349.9,1655.3 1350.9,1655.5 1351.9,1655.8 1352.9,1656.2 1353.9,1656.8 1354.9,1657.4 1355.9,1658.1 1356.9,1658.8 1357.9,1659.4 1358.9,1660.0 1359.9,1660.5 1360.9,1660.8 1361.9,1661.0 1362.9,1660.9 1363.9,1660.6 1364.9,1660.2 1365.9,1659.7 1366.9,1659.0 1367.9,1658.3 1368.9,1657.6 1369.9,1656.9 1370.9,1656.2 1371.9,1655.6 1372.9,1655.2 1373.9,1654.8 1374.9,1654.7 1375.9,1654.7 1376.9,1654.9 1377.9,1655.1 1378.9,1655.4 1379.9,1655.8 1380.9,1656.2 1381.9,1656.6 1382.9,1657.0 1383.9,1657.4 1384.9,1658.0 1385.9,1658.6 1386.9,1659.3 1387.9,1660.1 1388.9,1660.8 1389.9,1661.4 1390.9,1661.8 1391.9,1662.1 1392.9,1662.2 1393.9,1662.0 1394.9,1661.7 1395.9,1661.2 1396.9,1660.6 1397.9,1659.9 1398.9,1659.1 1399.9,1658.4 1400.9,1657.6 1401.9,1656.9 1402.9,1656.3 1403.9,1655.9 1404.9,1655.6 1405.9,1655.4 1406.9,1655.5 1407.9,1655.6 1408.9,1655.8 1409.9,1656.1 1410.9,1656.4 1411.9,1656.7 1412.9,1657.0 1413.9,1657.4 1414.9,1657.8 1415.9,1658.4 1416.9,1659.0 1417.9,1659.7 1418.9,1660.3 1419.9,1660.9 1420.9,1661.2 1421.9,1661.4 1422.9,1661.4 1423.9,1661.3 1424.9,1661.1 1425.9,1660.8 1426.9,1660.4 1427.9,1660.0 1428.9,1659.6 1429.9,1659.2 1430.9,1658.7 1431.9,1658.3 1432.9,1657.9 1433.9,1657.6 1434.9,1657.4 1435.9,1657.2 1436.9,1657.1 1437.9,1657.0 1438.9,1656.9 1439.9,1656.8 1440.9,1656.8 1441.9,1656.7 1442.9,1656.6 1443.9,1656.6 1444.9,1656.5 1445.9,1656.5 1446.9,1656.5 1447.9,1656.5 1448.9,1656.5 1449.9,1656.7 1450.9,1657.2 1451.9,1657.9 1452.9,1658.8 1453.9,1659.6 1454.9,1660.5 1455.9,1661.2 1456.9,1661.8 1457.9,1662.1 1458.9,1662.2 1459.9,1662.0 1460.9,1661.7 1461.9,1661.2 1462.9,1660.6 1463.9,1659.9 1464.9,1659.2 1465.9,1658.4 1466.9,1657.7 1467.9,1657.1 1468.9,1656.6 1469.9,1656.2 1470.9,1656.0 1471.9,1656.0 1472.9,1656.0 1473.9,1656.1 1474.9,1656.2 1475.9,1656.4 1476.9,1656.6 1477.9,1656.8 1478.9,1657.0 1479.9,1657.1 1480.9,1657.3 1481.9,1657.6 1482.9,1657.8 1483.9,1658.0 1484.9,1658.3 1485.9,1658.6 1486.9,1658.9 1487.9,1659.1 1488.9,1659.4 1489.9,1659.6 1490.9,1659.9 1491.9,1660.1 1492.9,1660.4 1493.9,1660.6 1494.9,1660.9 1495.9,1661.2 1496.9,1661.4 1497.9,1661.6 1498.9,1661.8 1499.9,1662.0 1500.9,1662.1 1501.9,1662.2 1502.9,1662.2 1503.9,1662.1 1504.9,1661.8 1505.9,1661.4 1506.9,1661.0 1507.9,1660.4 1508.9,1659.7 1509.9,1659.1 1510.9,1658.4 1511.9,1657.7 1512.9,1657.1 1513.9,1656.6 1514.9,1656.1 1515.9,1655.7 1516.9,1655.5 1517.9,1655.4 1518.9,1655.5 1519.9,1655.6 1520.9,1655.7 1521.9,1655.9 1522.9,1656.1 1523.9,1656.3 1524.9,1656.6 1525.9,1656.8 1526.9,1657.1 1527.9,1657.4 1528.9,1657.6 1529.9,1657.9 1530.9,1658.1 1531.9,1658.4 1532.9,1658.7 1533.9,1659.0 1534.9,1659.3 1535.9,1659.7 1536.9,1659.9 1537.9,1660.2 1538.9,1660.4 1539.9,1660.4 1540.9,1660.5 1541.9,1660.4 1542.9,1660.4 1543.9,1660.3 1544.9,1660.2 1545.9,1660.1 1546.9,1660.1 1547.9,1660.0 1548.9,1659.9 1549.9,1659.8 1550.9,1659.8 1551.9,1659.7 1552.9,1659.7 1553.9,1659.8 1554.9,1660.1 1555.9,1660.6 1556.9,1661.1 1557.9,1661.7 1558.9,1662.2 1559.9,1662.6 1560.9,1662.9 1561.9,1663.0 1562.9,1662.9 1563.9,1662.6 1564.9,1662.3 1565.9,1661.8 1566.9,1661.3 1567.9,1660.8 1568.9,1660.3 1569.9,1659.7 1570.9,1659.2 1571.9,1658.8 1572.9,1658.4 1573.9,1658.1 1574.9,1658.0 1575.9,1658.0 1576.9,1658.0 1577.9,1658.2 1578.9,1658.4 1579.9,1658.7 1580.9,1659.0 1581.9,1659.3 1582.9,1659.7 1583.9,1660.0 1584.9,1660.4 1585.9,1660.7 1586.9,1661.0 1587.9,1661.2 1588.9,1661.4 1589.9,1661.4 1590.9,1661.5 1591.9,1661.4 1592.9,1661.3 1593.9,1661.2 1594.9,1661.1 1595.9,1660.9 1596.9,1660.8 1597.9,1660.6 1598.9,1660.4 1599.9,1660.3 1600.9,1660.1 1601.9,1660.0 1602.9,1659.8 1603.9,1659.8 1604.9,1659.7 1605.9,1659.7 1606.9,1659.7 1607.9,1659.8 1608.9,1659.9 1609.9,1660.1 1610.9,1660.2 1611.9,1660.3 1612.9,1660.5 1613.9,1660.6 1614.9,1660.8 1615.9,1660.9 1616.9,1660.9 1617.9,1661.0 1618.9,1661.0 1619.9,1660.9 1620.9,1660.9 1621.9,1660.8 1622.9,1660.7 1623.9,1660.6 1624.9,1660.5 1625.9,1660.4 1626.9,1660.3 1627.9,1660.2 1628.9,1660.1 1629.9,1660.0 1630.9,1659.9 1631.9,1659.9 1632.9,1659.8 1633.9,1659.7 1634.9,1659.7 1635.9,1659.7 1636.9,1659.8 1637.9,1659.9 1638.9,1660.1 1639.9,1660.4 1640.9,1660.6 1641.9,1660.9 1642.9,1661.3 1643.9,1661.6 1644.9,1661.9 1645.9,1662.2 1646.9,1662.5 1647.9,1662.7 1648.9,1662.8 1649.9,1662.9 1650.9,1663.0 1651.9,1662.9 1652.9,1662.7 1653.9,1662.5 1654.9,1662.2 1655.9,1661.8 1656.9,1661.5 1657.9,1661.1 1658.9,1660.7 1659.9,1660.3 1660.9,1659.9 1661.9,1659.6 1662.9,1659.3 1663.9,1659.1 1664.9,1659.0 1665.9,1659.0 1666.9,1659.0 1667.9,1659.2 1668.9,1659.5 1669.9,1659.8 1670.9,1660.2 1671.9,1660.6 1672.9,1661.0 1673.9,1661.3 1674.9,1661.6 1675.9,1661.9 1676.9,1662.1 1677.9,1662.2 1678.9,1662.2 1679.9,1662.2 1680.9,1662.2 1681.9,1662.1 1682.9,1662.1 1683.9,1662.0 1684.9,1662.0 1685.9,1661.9 1686.9,1661.8 1687.9,1661.8 1688.9,1661.7 1689.9,1661.7 1690.9,1661.6 1691.9,1661.6 1692.9,1661.5 1693.9,1661.5 1694.9,1661.5 1695.9,1661.5 1696.9,1661.5 1697.9,1661.5 1698.9,1661.5 1699.9,1661.5 1700.9,1661.6 1701.9,1661.6 1702.9,1661.7 1703.9,1661.7 1704.9,1661.8 1705.9,1661.8 1706.9,1661.9 1707.9,1662.0 1708.9,1662.0 1709.9,1662.1 1710.9,1662.1 1711.9,1662.1 1712.9,1662.2 1713.9,1662.2 1714.9,1662.2 1715.9,1662.2 1716.9,1662.2 1717.9,1662.1 1718.9,1661.9 1719.9,1661.8 1720.9,1661.5 1721.9,1661.3 1722.9,1661.1 1723.9,1660.8 1724.9,1660.6 1725.9,1660.3 1726.9,1660.1 1727.9,1660.0 1728.9,1659.8 1729.9,1659.7 1730.9,1659.7 1731.9,1659.7 1732.9,1659.8 1733.9,1659.8 1734.9,1659.9 1735.9,1660.0 1736.9,1660.2 1737.9,1660.3 1738.9,1660.4 1739.9,1660.5 1740.9,1660.6 1741.9,1660.7 1742.9,1660.8 1743.9,1660.9 1744.9,1660.9 1745.9,1661.0 1746.9,1660.9 1747.9,1660.9 1748.9,1660.7 1749.9,1660.6 1750.9,1660.4 1751.9,1660.1 1752.9,1659.9 1753.9,1659.7 1754.9,1659.4 1755.9,1659.1 1756.9,1658.9 1757.9,1658.7 1758.9,1658.5 1759.9,1658.3 1760.9,1658.1 1761.9,1658.0 1762.9,1658.0 1763.9,1658.0 1764.9,1658.0 1765.9,1658.0 1766.9,1658.1 1767.9,1658.2 1768.9,1658.4 1769.9,1658.5 1770.9,1658.6 1771.9,1658.8 1772.9,1658.9 1773.9,1659.1 1774.9,1659.3 1775.9,1659.4 1776.9,1659.5 1777.9,1659.6 1778.9,1659.7 1779.9,1659.9 1780.9,1660.0 1781.9,1660.1 1782.9,1660.2 1783.9,1660.3 1784.9,1660.4 1785.9,1660.5 1786.9,1660.6 1787.9,1660.7 1788.9,1660.8 1789.9,1660.8 1790.9,1660.9 1791.9,1660.9 1792.9,1661.0 1793.9,1661.0 1794.9,1660.9 1795.9,1660.8 1796.9,1660.6 1797.9,1660.4 1798.9,1660.2 1799.9,1660.0 1800.9,1659.7 1801.9,1659.5 1802.9,1659.3 1803.9,1659.0 1804.9,1658.8 1805.9,1658.7 1806.9,1658.5 1807.9,1658.5 1808.9,1658.5 1809.9,1658.5 1810.9,1658.6 1811.9,1658.7 1812.9,1658.8 1813.9,1658.9 1814.9,1659.1 1815.9,1659.2 1816.9,1659.4 1817.9,1659.6 1818.9,1659.8 1819.9,1660.0 1820.9,1660.3 1821.9,1660.6 1822.9,1660.9 1823.9,1661.3 1824.9,1661.6 1825.9,1661.9 1826.9,1662.3 1827.9,1662.5 1828.9,1662.7 1829.9,1662.9 1830.9,1663.0 1831.9,1663.0 1832.9,1662.9 1833.9,1662.9 1834.9,1662.8 1835.9,1662.6 1836.9,1662.5 1837.9,1662.3 1838.9,1662.1 1839.9,1661.8 1840.9,1661.5 1841.9,1661.1 1842.4,1661.0"/>
</g>
</g>
<text transform="translate(541.20,59.70) scale(0.9978,1)" font-size="54.3">Raw and filtered Pitch signal during sprint</text>
<text transform="translate(671.00,971.60) scale(0.9977,1)" font-size="54.3">Fourier Transform of the Pitch</text>
<text transform="translate(925.41,900.30) scale(0.9949,1)" font-size="47">Time (<tspan font-style="italic">s</tspan>)</text>
<text transform="translate(888.62,1803.30) scale(0.9823,1)" font-size="47">Frequency (<tspan font-style="italic" font-size="40.5">Hz</tspan>)</text>
<text transform="translate(165.96,843.10) scale(1.0176,1)" font-size="42">0</text>
<text transform="translate(320.22,846.30) scale(0.9875,1)" font-size="42">0.2</text>
<text transform="translate(491.51,846.30) scale(0.9440,1)" font-size="42">0.4</text>
<text transform="translate(661.24,846.30) scale(0.9776,1)" font-size="42">0.6</text>
<text transform="translate(832.97,846.30) scale(0.9673,1)" font-size="42">0.8</text>
<text transform="translate(1010.34,846.30) scale(0.9404,1)" font-size="42">1.0</text>
<text transform="translate(1182.11,846.30) scale(0.9478,1)" font-size="42">1.2</text>
<text transform="translate(1353.16,846.30) scale(0.9104,1)" font-size="42">1.4</text>
<text transform="translate(1523.35,846.30) scale(0.9383,1)" font-size="42">1.6</text>
<text transform="translate(1694.61,846.30) scale(0.9234,1)" font-size="42">1.8</text>
<text transform="translate(118.84,138.50) scale(0.9139,1)" font-size="42">15</text>
<text transform="translate(118.78,232.90) scale(0.9306,1)" font-size="42">10</text>
<text transform="translate(139.52,344.10) scale(0.8938,1)" font-size="42">5</text>
<text transform="translate(136.83,448.70) scale(1.0353,1)" font-size="42">0</text>
<text transform="translate(112.96,552.90) scale(0.9707,1)" font-size="42">−5</text>
<text transform="translate(92.72,653.20) scale(0.9887,1)" font-size="42">−10</text>
<text transform="translate(93.38,761.10) scale(0.9581,1)" font-size="42">−15</text>
<text transform="translate(184.76,1747.30) scale(1.0176,1)" font-size="42">0</text>
<text transform="translate(509.41,1750.60) scale(1.0471,1)" font-size="42">2</text>
<text transform="translate(843.59,1750.60) scale(0.9105,1)" font-size="42">4</text>
<text transform="translate(1177.87,1750.60) scale(0.9167,1)" font-size="42">6</text>
<text transform="translate(1493.69,1751.30) scale(1.0059,1)" font-size="42">8</text>
<text transform="translate(1811.53,1750.60) scale(0.9667,1)" font-size="42">10</text>
<text transform="translate(81.39,1115.90) scale(1.0038,1)" font-size="42">5000</text>
<text transform="translate(83.42,1218.90) scale(0.9790,1)" font-size="42">4000</text>
<text transform="translate(82.42,1333.00) scale(0.9912,1)" font-size="42">3000</text>
<text transform="translate(83.65,1455.70) scale(0.9762,1)" font-size="42">2000</text>
<text transform="translate(84.12,1567.90) scale(0.9705,1)" font-size="42">1000</text>
<text transform="translate(149.08,1677.00) scale(0.9588,1)" font-size="42">0</text>
<text transform="translate(85.60,580.57) rotate(-90) scale(0.9835,1)" font-size="55">Pitch (<tspan font-style="italic">rad/s</tspan>)</text>
<text transform="translate(57.50,1469.08) rotate(-90) scale(0.9751,1)" font-size="47">Magnitude</text>
</svg></body></html>
